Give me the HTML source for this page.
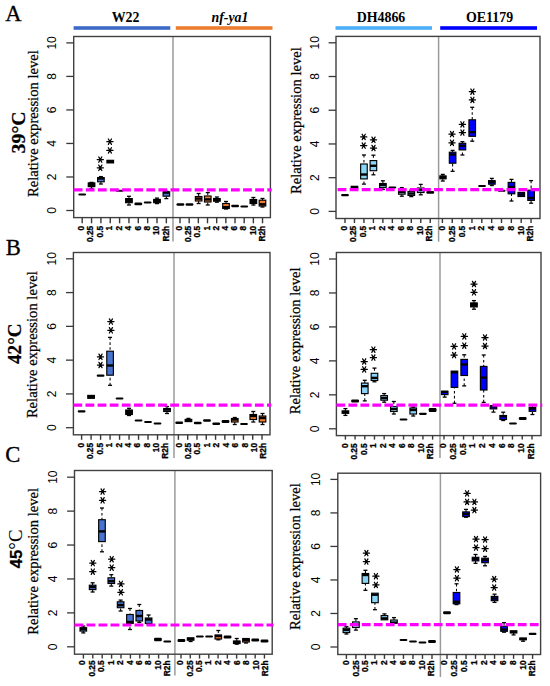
<!DOCTYPE html>
<html><head><meta charset="utf-8"><title>Figure</title><style>
html,body{margin:0;padding:0;background:#fff;}
body{width:550px;height:686px;overflow:hidden;}
svg{display:block;}
text{font-family:"Liberation Sans",sans-serif;fill:#000;}
.pl{font-family:"Liberation Serif",serif;font-size:22.6px;stroke:#000;stroke-width:0.3px;}
.hd{font-family:"Liberation Serif",serif;font-size:13.9px;font-weight:bold;}
.hi{font-style:italic;}
.tl{font-family:"Liberation Serif",serif;font-size:19.8px;font-weight:bold;stroke:#000;stroke-width:0.25px;}
.t45{font-family:"Liberation Sans",sans-serif;font-size:16.8px;font-weight:bold;}
.tdc{font-family:"Liberation Serif",serif;font-size:18.9px;font-weight:normal;stroke-width:0.1px;}
.yl{font-family:"Liberation Serif",serif;font-size:14.62px;stroke:#000;stroke-width:0.25px;}
.yt{font-family:"Liberation Sans",sans-serif;font-size:12px;}
.xt{font-family:"Liberation Sans",sans-serif;font-size:9.2px;font-weight:bold;stroke:#000;stroke-width:0.32px;}
</style></head><body>
<svg width="550" height="686" viewBox="0 0 550 686">
<rect width="550" height="686" fill="#fff"/>
<text x="5.2" y="21" class="pl">A</text>
<text x="5.8" y="254.8" class="pl">B</text>
<text x="5.2" y="462.2" class="pl">C</text>
<text x="125.6" y="22.3" class="hd" text-anchor="middle">W22</text>
<text x="230" y="22.3" class="hd hi" text-anchor="middle">nf-ya1</text>
<text x="381" y="22.3" class="hd" text-anchor="middle">DH4866</text>
<text x="489.6" y="22.3" class="hd" text-anchor="middle">OE1179</text>
<rect x="73.6" y="26.2" width="96.7" height="3.6" fill="#3D6AC6"/>
<rect x="175.8" y="26.2" width="96.7" height="3.6" fill="#ED7D31"/>
<rect x="335.5" y="26.2" width="96.5" height="3.6" fill="#4EAEF8"/>
<rect x="440.2" y="26.2" width="96.8" height="3.6" fill="#0000FF"/>
<text transform="translate(25.1 132.4) rotate(-90)" text-anchor="middle" class="tl">39°C</text>
<text transform="translate(20.8 343.7) rotate(-90)" text-anchor="middle" class="tl" style="font-size:19.1px">42°C</text>
<text transform="translate(22.2 548.9) rotate(-90)" text-anchor="middle" class="tl"><tspan class="t45">45</tspan><tspan class="tdc">°C</tspan></text>
<rect x="78.3" y="193.4" width="7.8" height="2.2" rx="1.2" fill="#000"/><line x1="91.55" y1="182.4" x2="91.55" y2="183" stroke="#000" stroke-width="1.05" stroke-dasharray="2.6 2.3"/><line x1="89.55" y1="182.4" x2="93.55" y2="182.4" stroke="#000" stroke-width="1.3"/><line x1="91.55" y1="188.4" x2="91.55" y2="186.6" stroke="#000" stroke-width="1.05" stroke-dasharray="2.6 2.3"/><line x1="89.55" y1="188.4" x2="93.55" y2="188.4" stroke="#000" stroke-width="1.3"/><rect x="88.25" y="183" width="6.6" height="3.6" fill="#000" stroke="#000" stroke-width="1.15"/><line x1="88.25" y1="183.8" x2="94.85" y2="183.8" stroke="#000" stroke-width="2.4"/><line x1="100.9" y1="176.6" x2="100.9" y2="177.6" stroke="#000" stroke-width="1.05" stroke-dasharray="2.6 2.3"/><line x1="98.9" y1="176.6" x2="102.9" y2="176.6" stroke="#000" stroke-width="1.3"/><line x1="100.9" y1="184" x2="100.9" y2="181.8" stroke="#000" stroke-width="1.05" stroke-dasharray="2.6 2.3"/><line x1="98.9" y1="184" x2="102.9" y2="184" stroke="#000" stroke-width="1.3"/><rect x="97.6" y="177.6" width="6.6" height="4.2" fill="#4873D0" stroke="#000" stroke-width="1.15"/><line x1="97.6" y1="178.5" x2="104.2" y2="178.5" stroke="#000" stroke-width="2.4"/><rect x="106.95" y="160.3" width="6.6" height="2.6" fill="#000" stroke="#000" stroke-width="1.15"/><line x1="106.95" y1="161.6" x2="113.55" y2="161.6" stroke="#000" stroke-width="2.4"/><rect x="115.7" y="189.7" width="7.8" height="2" rx="1.2" fill="#000"/><line x1="128.95" y1="196.3" x2="128.95" y2="198.6" stroke="#000" stroke-width="1.05" stroke-dasharray="2.6 2.3"/><line x1="126.95" y1="196.3" x2="130.95" y2="196.3" stroke="#000" stroke-width="1.3"/><line x1="128.95" y1="205" x2="128.95" y2="202.7" stroke="#000" stroke-width="1.05" stroke-dasharray="2.6 2.3"/><line x1="126.95" y1="205" x2="130.95" y2="205" stroke="#000" stroke-width="1.3"/><rect x="125.65" y="198.6" width="6.6" height="4.1" fill="#000" stroke="#000" stroke-width="1.15"/><line x1="125.65" y1="200" x2="132.25" y2="200" stroke="#000" stroke-width="2.4"/><rect x="134.4" y="202.4" width="7.8" height="2.8" rx="1.2" fill="#000"/><rect x="143.75" y="201.4" width="7.8" height="2" rx="1.2" fill="#000"/><line x1="157" y1="198.1" x2="157" y2="199.4" stroke="#000" stroke-width="1.05" stroke-dasharray="2.6 2.3"/><line x1="155" y1="198.1" x2="159" y2="198.1" stroke="#000" stroke-width="1.3"/><line x1="157" y1="203.6" x2="157" y2="202.7" stroke="#000" stroke-width="1.05" stroke-dasharray="2.6 2.3"/><line x1="155" y1="203.6" x2="159" y2="203.6" stroke="#000" stroke-width="1.3"/><rect x="153.7" y="199.4" width="6.6" height="3.3" fill="#000" stroke="#000" stroke-width="1.15"/><line x1="153.7" y1="200.6" x2="160.3" y2="200.6" stroke="#000" stroke-width="2.4"/><line x1="166.35" y1="191.2" x2="166.35" y2="191.9" stroke="#000" stroke-width="1.05" stroke-dasharray="2.6 2.3"/><line x1="164.35" y1="191.2" x2="168.35" y2="191.2" stroke="#000" stroke-width="1.3"/><line x1="166.35" y1="198.6" x2="166.35" y2="196.2" stroke="#000" stroke-width="1.05" stroke-dasharray="2.6 2.3"/><line x1="164.35" y1="198.6" x2="168.35" y2="198.6" stroke="#000" stroke-width="1.3"/><rect x="163.05" y="191.9" width="6.6" height="4.3" fill="#4873D0" stroke="#000" stroke-width="1.15"/><line x1="163.05" y1="192.6" x2="169.65" y2="192.6" stroke="#000" stroke-width="2.4"/><rect x="176.5" y="203.25" width="7.8" height="2.5" rx="1.2" fill="#000"/><rect x="185.62" y="203.25" width="7.8" height="2.5" rx="1.2" fill="#000"/><line x1="198.64" y1="193.5" x2="198.64" y2="196.5" stroke="#000" stroke-width="1.05" stroke-dasharray="2.6 2.3"/><line x1="196.64" y1="193.5" x2="200.64" y2="193.5" stroke="#000" stroke-width="1.3"/><line x1="198.64" y1="203.5" x2="198.64" y2="201" stroke="#000" stroke-width="1.05" stroke-dasharray="2.6 2.3"/><line x1="196.64" y1="203.5" x2="200.64" y2="203.5" stroke="#000" stroke-width="1.3"/><rect x="195.34" y="196.5" width="6.6" height="4.5" fill="#ED7D31" stroke="#000" stroke-width="1.15"/><line x1="195.34" y1="198.6" x2="201.94" y2="198.6" stroke="#000" stroke-width="2.4"/><line x1="207.76" y1="192.6" x2="207.76" y2="196" stroke="#000" stroke-width="1.05" stroke-dasharray="2.6 2.3"/><line x1="205.76" y1="192.6" x2="209.76" y2="192.6" stroke="#000" stroke-width="1.3"/><line x1="207.76" y1="205" x2="207.76" y2="202" stroke="#000" stroke-width="1.05" stroke-dasharray="2.6 2.3"/><line x1="205.76" y1="205" x2="209.76" y2="205" stroke="#000" stroke-width="1.3"/><rect x="204.46" y="196" width="6.6" height="6" fill="#ED7D31" stroke="#000" stroke-width="1.15"/><line x1="204.46" y1="199.4" x2="211.06" y2="199.4" stroke="#000" stroke-width="2.4"/><line x1="216.88" y1="197" x2="216.88" y2="198.5" stroke="#000" stroke-width="1.05" stroke-dasharray="2.6 2.3"/><line x1="214.88" y1="197" x2="218.88" y2="197" stroke="#000" stroke-width="1.3"/><line x1="216.88" y1="202.2" x2="216.88" y2="201.2" stroke="#000" stroke-width="1.05" stroke-dasharray="2.6 2.3"/><line x1="214.88" y1="202.2" x2="218.88" y2="202.2" stroke="#000" stroke-width="1.3"/><rect x="213.58" y="198.5" width="6.6" height="2.7" fill="#000" stroke="#000" stroke-width="1.15"/><line x1="213.58" y1="199.8" x2="220.18" y2="199.8" stroke="#000" stroke-width="2.4"/><line x1="226" y1="201.5" x2="226" y2="203.5" stroke="#000" stroke-width="1.05" stroke-dasharray="2.6 2.3"/><line x1="224" y1="201.5" x2="228" y2="201.5" stroke="#000" stroke-width="1.3"/><line x1="226" y1="209" x2="226" y2="208.5" stroke="#000" stroke-width="1.05" stroke-dasharray="2.6 2.3"/><line x1="224" y1="209" x2="228" y2="209" stroke="#000" stroke-width="1.3"/><rect x="222.7" y="203.5" width="6.6" height="5" fill="#ED7D31" stroke="#000" stroke-width="1.15"/><line x1="222.7" y1="207.2" x2="229.3" y2="207.2" stroke="#000" stroke-width="2.4"/><rect x="231.22" y="204.75" width="7.8" height="2.5" rx="1.2" fill="#000"/><rect x="240.34" y="205.4" width="7.8" height="2.2" rx="1.2" fill="#000"/><line x1="253.36" y1="197.5" x2="253.36" y2="199.5" stroke="#000" stroke-width="1.05" stroke-dasharray="2.6 2.3"/><line x1="251.36" y1="197.5" x2="255.36" y2="197.5" stroke="#000" stroke-width="1.3"/><line x1="253.36" y1="205" x2="253.36" y2="203.5" stroke="#000" stroke-width="1.05" stroke-dasharray="2.6 2.3"/><line x1="251.36" y1="205" x2="255.36" y2="205" stroke="#000" stroke-width="1.3"/><rect x="250.06" y="199.5" width="6.6" height="4" fill="#000" stroke="#000" stroke-width="1.15"/><line x1="250.06" y1="201.4" x2="256.66" y2="201.4" stroke="#000" stroke-width="2.4"/><line x1="262.48" y1="198.5" x2="262.48" y2="200.2" stroke="#000" stroke-width="1.05" stroke-dasharray="2.6 2.3"/><line x1="260.48" y1="198.5" x2="264.48" y2="198.5" stroke="#000" stroke-width="1.3"/><line x1="262.48" y1="207" x2="262.48" y2="206" stroke="#000" stroke-width="1.05" stroke-dasharray="2.6 2.3"/><line x1="260.48" y1="207" x2="264.48" y2="207" stroke="#000" stroke-width="1.3"/><rect x="259.18" y="200.2" width="6.6" height="5.8" fill="#ED7D31" stroke="#000" stroke-width="1.15"/><line x1="259.18" y1="204.3" x2="265.78" y2="204.3" stroke="#000" stroke-width="2.4"/><path d="M97.2 159.6L103.4 159.6M98.75 156.92L101.85 162.28M101.85 156.92L98.75 162.28" stroke="#000" stroke-width="1.25" stroke-linecap="round"/><path d="M97.2 167.8L103.4 167.8M98.75 165.12L101.85 170.48M101.85 165.12L98.75 170.48" stroke="#000" stroke-width="1.25" stroke-linecap="round"/><path d="M106.8 141.7L113 141.7M108.35 139.02L111.45 144.38M111.45 139.02L108.35 144.38" stroke="#000" stroke-width="1.25" stroke-linecap="round"/><path d="M106.8 150.4L113 150.4M108.35 147.72L111.45 153.08M111.45 147.72L108.35 153.08" stroke="#000" stroke-width="1.25" stroke-linecap="round"/><line x1="173" y1="36.5" x2="173" y2="241.6" stroke="#9a9a9a" stroke-width="1.5"/><rect x="73.7" y="36.5" width="196.7" height="181.1" fill="none" stroke="#404040" stroke-width="1.4"/><line x1="73.7" y1="189.8" x2="271.7" y2="189.8" stroke="#FF00FF" stroke-width="3.2" stroke-dasharray="8.8 3.3"/><line x1="66.3" y1="210.5" x2="73.7" y2="210.5" stroke="#383838" stroke-width="1.3"/><text transform="translate(56.3 210.5) rotate(-90)" text-anchor="middle" class="yt">0</text><line x1="66.3" y1="176.98" x2="73.7" y2="176.98" stroke="#383838" stroke-width="1.3"/><text transform="translate(56.3 176.98) rotate(-90)" text-anchor="middle" class="yt">2</text><line x1="66.3" y1="143.46" x2="73.7" y2="143.46" stroke="#383838" stroke-width="1.3"/><text transform="translate(56.3 143.46) rotate(-90)" text-anchor="middle" class="yt">4</text><line x1="66.3" y1="109.94" x2="73.7" y2="109.94" stroke="#383838" stroke-width="1.3"/><text transform="translate(56.3 109.94) rotate(-90)" text-anchor="middle" class="yt">6</text><line x1="66.3" y1="76.42" x2="73.7" y2="76.42" stroke="#383838" stroke-width="1.3"/><text transform="translate(56.3 76.42) rotate(-90)" text-anchor="middle" class="yt">8</text><line x1="66.3" y1="42.9" x2="73.7" y2="42.9" stroke="#383838" stroke-width="1.3"/><text transform="translate(56.3 42.9) rotate(-90)" text-anchor="middle" class="yt">10</text><line x1="82.2" y1="217.6" x2="82.2" y2="223.3" stroke="#383838" stroke-width="1.4"/><text transform="translate(83.95 225.9) rotate(-90) scale(0.9 1)" text-anchor="end" class="xt">0</text><line x1="91.55" y1="217.6" x2="91.55" y2="223.3" stroke="#383838" stroke-width="1.4"/><text transform="translate(93.38 225.9) rotate(-90) scale(0.9 1)" text-anchor="end" class="xt">0.25</text><line x1="100.9" y1="217.6" x2="100.9" y2="223.3" stroke="#383838" stroke-width="1.4"/><text transform="translate(102.81 225.9) rotate(-90) scale(0.9 1)" text-anchor="end" class="xt">0.5</text><line x1="110.25" y1="217.6" x2="110.25" y2="223.3" stroke="#383838" stroke-width="1.4"/><text transform="translate(112.24 225.9) rotate(-90) scale(0.9 1)" text-anchor="end" class="xt">1</text><line x1="119.6" y1="217.6" x2="119.6" y2="223.3" stroke="#383838" stroke-width="1.4"/><text transform="translate(121.67 225.9) rotate(-90) scale(0.9 1)" text-anchor="end" class="xt">2</text><line x1="128.95" y1="217.6" x2="128.95" y2="223.3" stroke="#383838" stroke-width="1.4"/><text transform="translate(131.1 225.9) rotate(-90) scale(0.9 1)" text-anchor="end" class="xt">4</text><line x1="138.3" y1="217.6" x2="138.3" y2="223.3" stroke="#383838" stroke-width="1.4"/><text transform="translate(140.53 225.9) rotate(-90) scale(0.9 1)" text-anchor="end" class="xt">6</text><line x1="147.65" y1="217.6" x2="147.65" y2="223.3" stroke="#383838" stroke-width="1.4"/><text transform="translate(149.96 225.9) rotate(-90) scale(0.9 1)" text-anchor="end" class="xt">8</text><line x1="157" y1="217.6" x2="157" y2="223.3" stroke="#383838" stroke-width="1.4"/><text transform="translate(159.39 225.9) rotate(-90) scale(0.9 1)" text-anchor="end" class="xt">10</text><line x1="166.35" y1="217.6" x2="166.35" y2="223.3" stroke="#383838" stroke-width="1.4"/><text transform="translate(168.82 225.9) rotate(-90) scale(0.9 1)" text-anchor="end" class="xt">R2h</text><line x1="180" y1="217.6" x2="180" y2="223.3" stroke="#383838" stroke-width="1.4"/><text transform="translate(181.95 225.9) rotate(-90) scale(0.9 1)" text-anchor="end" class="xt">0</text><line x1="189.17" y1="217.6" x2="189.17" y2="223.3" stroke="#383838" stroke-width="1.4"/><text transform="translate(191.15 225.9) rotate(-90) scale(0.9 1)" text-anchor="end" class="xt">0.25</text><line x1="198.34" y1="217.6" x2="198.34" y2="223.3" stroke="#383838" stroke-width="1.4"/><text transform="translate(200.35 225.9) rotate(-90) scale(0.9 1)" text-anchor="end" class="xt">0.5</text><line x1="207.51" y1="217.6" x2="207.51" y2="223.3" stroke="#383838" stroke-width="1.4"/><text transform="translate(209.55 225.9) rotate(-90) scale(0.9 1)" text-anchor="end" class="xt">1</text><line x1="216.68" y1="217.6" x2="216.68" y2="223.3" stroke="#383838" stroke-width="1.4"/><text transform="translate(218.75 225.9) rotate(-90) scale(0.9 1)" text-anchor="end" class="xt">2</text><line x1="225.85" y1="217.6" x2="225.85" y2="223.3" stroke="#383838" stroke-width="1.4"/><text transform="translate(227.95 225.9) rotate(-90) scale(0.9 1)" text-anchor="end" class="xt">4</text><line x1="235.02" y1="217.6" x2="235.02" y2="223.3" stroke="#383838" stroke-width="1.4"/><text transform="translate(237.15 225.9) rotate(-90) scale(0.9 1)" text-anchor="end" class="xt">6</text><line x1="244.19" y1="217.6" x2="244.19" y2="223.3" stroke="#383838" stroke-width="1.4"/><text transform="translate(246.35 225.9) rotate(-90) scale(0.9 1)" text-anchor="end" class="xt">8</text><line x1="253.36" y1="217.6" x2="253.36" y2="223.3" stroke="#383838" stroke-width="1.4"/><text transform="translate(255.55 225.9) rotate(-90) scale(0.9 1)" text-anchor="end" class="xt">10</text><line x1="262.53" y1="217.6" x2="262.53" y2="223.3" stroke="#383838" stroke-width="1.4"/><text transform="translate(264.75 225.9) rotate(-90) scale(0.9 1)" text-anchor="end" class="xt">R2h</text><text transform="translate(38 123.6) rotate(-90)" text-anchor="middle" class="yl">Relative expression level</text>
<rect x="341.1" y="194.1" width="7.8" height="2.2" rx="1.2" fill="#000"/><rect x="351.17" y="186.3" width="6.6" height="2.3" fill="#000" stroke="#000" stroke-width="1.15"/><line x1="351.17" y1="187.2" x2="357.77" y2="187.2" stroke="#000" stroke-width="2.4"/><line x1="363.94" y1="155" x2="363.94" y2="164" stroke="#000" stroke-width="1.05" stroke-dasharray="2.6 2.3"/><line x1="361.94" y1="155" x2="365.94" y2="155" stroke="#000" stroke-width="1.3"/><line x1="363.94" y1="184.1" x2="363.94" y2="178.9" stroke="#000" stroke-width="1.05" stroke-dasharray="2.6 2.3"/><line x1="361.94" y1="184.1" x2="365.94" y2="184.1" stroke="#000" stroke-width="1.3"/><rect x="360.64" y="164" width="6.6" height="14.9" fill="#8AD5F8" stroke="#000" stroke-width="1.15"/><line x1="360.64" y1="174.5" x2="367.24" y2="174.5" stroke="#000" stroke-width="2.4"/><line x1="373.41" y1="155.2" x2="373.41" y2="160.6" stroke="#000" stroke-width="1.05" stroke-dasharray="2.6 2.3"/><line x1="371.41" y1="155.2" x2="375.41" y2="155.2" stroke="#000" stroke-width="1.3"/><line x1="373.41" y1="174.8" x2="373.41" y2="170.7" stroke="#000" stroke-width="1.05" stroke-dasharray="2.6 2.3"/><line x1="371.41" y1="174.8" x2="375.41" y2="174.8" stroke="#000" stroke-width="1.3"/><rect x="370.11" y="160.6" width="6.6" height="10.1" fill="#8AD5F8" stroke="#000" stroke-width="1.15"/><line x1="370.11" y1="165.8" x2="376.71" y2="165.8" stroke="#000" stroke-width="2.4"/><line x1="382.88" y1="180.8" x2="382.88" y2="183.5" stroke="#000" stroke-width="1.05" stroke-dasharray="2.6 2.3"/><line x1="380.88" y1="180.8" x2="384.88" y2="180.8" stroke="#000" stroke-width="1.3"/><line x1="382.88" y1="189.5" x2="382.88" y2="187.6" stroke="#000" stroke-width="1.05" stroke-dasharray="2.6 2.3"/><line x1="380.88" y1="189.5" x2="384.88" y2="189.5" stroke="#000" stroke-width="1.3"/><rect x="379.58" y="183.5" width="6.6" height="4.1" fill="#8AD5F8" stroke="#000" stroke-width="1.15"/><line x1="379.58" y1="185" x2="386.18" y2="185" stroke="#000" stroke-width="2.4"/><rect x="388.45" y="186.5" width="7.8" height="2" rx="1.2" fill="#000"/><line x1="401.82" y1="187.6" x2="401.82" y2="190.3" stroke="#000" stroke-width="1.05" stroke-dasharray="2.6 2.3"/><line x1="399.82" y1="187.6" x2="403.82" y2="187.6" stroke="#000" stroke-width="1.3"/><line x1="401.82" y1="196.2" x2="401.82" y2="194.2" stroke="#000" stroke-width="1.05" stroke-dasharray="2.6 2.3"/><line x1="399.82" y1="196.2" x2="403.82" y2="196.2" stroke="#000" stroke-width="1.3"/><rect x="398.52" y="190.3" width="6.6" height="3.9" fill="#8AD5F8" stroke="#000" stroke-width="1.15"/><line x1="398.52" y1="192" x2="405.12" y2="192" stroke="#000" stroke-width="2.4"/><line x1="411.29" y1="190" x2="411.29" y2="191.4" stroke="#000" stroke-width="1.05" stroke-dasharray="2.6 2.3"/><line x1="409.29" y1="190" x2="413.29" y2="190" stroke="#000" stroke-width="1.3"/><line x1="411.29" y1="196.6" x2="411.29" y2="195.4" stroke="#000" stroke-width="1.05" stroke-dasharray="2.6 2.3"/><line x1="409.29" y1="196.6" x2="413.29" y2="196.6" stroke="#000" stroke-width="1.3"/><rect x="407.99" y="191.4" width="6.6" height="4" fill="#8AD5F8" stroke="#000" stroke-width="1.15"/><line x1="407.99" y1="193.5" x2="414.59" y2="193.5" stroke="#000" stroke-width="2.4"/><line x1="420.76" y1="184.4" x2="420.76" y2="188" stroke="#000" stroke-width="1.05" stroke-dasharray="2.6 2.3"/><line x1="418.76" y1="184.4" x2="422.76" y2="184.4" stroke="#000" stroke-width="1.3"/><line x1="420.76" y1="194.8" x2="420.76" y2="192.5" stroke="#000" stroke-width="1.05" stroke-dasharray="2.6 2.3"/><line x1="418.76" y1="194.8" x2="422.76" y2="194.8" stroke="#000" stroke-width="1.3"/><rect x="417.46" y="188" width="6.6" height="4.5" fill="#8AD5F8" stroke="#000" stroke-width="1.15"/><line x1="417.46" y1="190" x2="424.06" y2="190" stroke="#000" stroke-width="2.4"/><rect x="426.33" y="190.9" width="7.8" height="2.8" rx="1.2" fill="#000"/><line x1="442.8" y1="174.4" x2="442.8" y2="175.9" stroke="#000" stroke-width="1.05" stroke-dasharray="2.6 2.3"/><line x1="440.8" y1="174.4" x2="444.8" y2="174.4" stroke="#000" stroke-width="1.3"/><line x1="442.8" y1="181" x2="442.8" y2="178.8" stroke="#000" stroke-width="1.05" stroke-dasharray="2.6 2.3"/><line x1="440.8" y1="181" x2="444.8" y2="181" stroke="#000" stroke-width="1.3"/><rect x="439.5" y="175.9" width="6.6" height="2.9" fill="#000" stroke="#000" stroke-width="1.15"/><line x1="439.5" y1="177.1" x2="446.1" y2="177.1" stroke="#000" stroke-width="2.4"/><line x1="452.61" y1="150.4" x2="452.61" y2="152.2" stroke="#000" stroke-width="1.05" stroke-dasharray="2.6 2.3"/><line x1="450.61" y1="150.4" x2="454.61" y2="150.4" stroke="#000" stroke-width="1.3"/><line x1="452.61" y1="171.3" x2="452.61" y2="163.2" stroke="#000" stroke-width="1.05" stroke-dasharray="2.6 2.3"/><line x1="450.61" y1="171.3" x2="454.61" y2="171.3" stroke="#000" stroke-width="1.3"/><rect x="449.31" y="152.2" width="6.6" height="11" fill="#0000FF" stroke="#000" stroke-width="1.15"/><line x1="449.31" y1="154.5" x2="455.91" y2="154.5" stroke="#000" stroke-width="2.4"/><line x1="462.42" y1="141.7" x2="462.42" y2="143.3" stroke="#000" stroke-width="1.05" stroke-dasharray="2.6 2.3"/><line x1="460.42" y1="141.7" x2="464.42" y2="141.7" stroke="#000" stroke-width="1.3"/><line x1="462.42" y1="155" x2="462.42" y2="149.9" stroke="#000" stroke-width="1.05" stroke-dasharray="2.6 2.3"/><line x1="460.42" y1="155" x2="464.42" y2="155" stroke="#000" stroke-width="1.3"/><rect x="459.12" y="143.3" width="6.6" height="6.6" fill="#0000FF" stroke="#000" stroke-width="1.15"/><line x1="459.12" y1="145.8" x2="465.72" y2="145.8" stroke="#000" stroke-width="2.4"/><line x1="472.23" y1="107.3" x2="472.23" y2="119.8" stroke="#000" stroke-width="1.05" stroke-dasharray="2.6 2.3"/><line x1="470.23" y1="107.3" x2="474.23" y2="107.3" stroke="#000" stroke-width="1.3"/><line x1="472.23" y1="141.2" x2="472.23" y2="136.3" stroke="#000" stroke-width="1.05" stroke-dasharray="2.6 2.3"/><line x1="470.23" y1="141.2" x2="474.23" y2="141.2" stroke="#000" stroke-width="1.3"/><rect x="468.93" y="119.8" width="6.6" height="16.5" fill="#0000FF" stroke="#000" stroke-width="1.15"/><line x1="468.93" y1="132.2" x2="475.53" y2="132.2" stroke="#000" stroke-width="2.4"/><rect x="478.14" y="185" width="7.8" height="2" rx="1.2" fill="#000"/><line x1="491.85" y1="178.4" x2="491.85" y2="180.6" stroke="#000" stroke-width="1.05" stroke-dasharray="2.6 2.3"/><line x1="489.85" y1="178.4" x2="493.85" y2="178.4" stroke="#000" stroke-width="1.3"/><line x1="491.85" y1="185.5" x2="491.85" y2="184.2" stroke="#000" stroke-width="1.05" stroke-dasharray="2.6 2.3"/><line x1="489.85" y1="185.5" x2="493.85" y2="185.5" stroke="#000" stroke-width="1.3"/><rect x="488.55" y="180.6" width="6.6" height="3.6" fill="#0000FF" stroke="#000" stroke-width="1.15"/><line x1="488.55" y1="182" x2="495.15" y2="182" stroke="#000" stroke-width="2.4"/><rect x="497.76" y="189.8" width="7.8" height="2" rx="1.2" fill="#000"/><line x1="511.47" y1="179.4" x2="511.47" y2="182.4" stroke="#000" stroke-width="1.05" stroke-dasharray="2.6 2.3"/><line x1="509.47" y1="179.4" x2="513.47" y2="179.4" stroke="#000" stroke-width="1.3"/><line x1="511.47" y1="201" x2="511.47" y2="193.8" stroke="#000" stroke-width="1.05" stroke-dasharray="2.6 2.3"/><line x1="509.47" y1="201" x2="513.47" y2="201" stroke="#000" stroke-width="1.3"/><rect x="508.17" y="182.4" width="6.6" height="11.4" fill="#0000FF" stroke="#000" stroke-width="1.15"/><line x1="508.17" y1="187" x2="514.77" y2="187" stroke="#000" stroke-width="2.4"/><rect x="517.98" y="192.4" width="6.6" height="4.1" fill="#0000FF" stroke="#000" stroke-width="1.15"/><line x1="517.98" y1="194.5" x2="524.58" y2="194.5" stroke="#000" stroke-width="2.4"/><line x1="531.09" y1="180.6" x2="531.09" y2="190.2" stroke="#000" stroke-width="1.05" stroke-dasharray="2.6 2.3"/><line x1="529.09" y1="180.6" x2="533.09" y2="180.6" stroke="#000" stroke-width="1.3"/><line x1="531.09" y1="203.2" x2="531.09" y2="200.4" stroke="#000" stroke-width="1.05" stroke-dasharray="2.6 2.3"/><line x1="529.09" y1="203.2" x2="533.09" y2="203.2" stroke="#000" stroke-width="1.3"/><rect x="527.79" y="190.2" width="6.6" height="10.2" fill="#0000FF" stroke="#000" stroke-width="1.15"/><line x1="527.79" y1="198" x2="534.39" y2="198" stroke="#000" stroke-width="2.4"/><path d="M360.6 136.9L366.8 136.9M362.15 134.22L365.25 139.58M365.25 134.22L362.15 139.58" stroke="#000" stroke-width="1.25" stroke-linecap="round"/><path d="M360.6 145.6L366.8 145.6M362.15 142.92L365.25 148.28M365.25 142.92L362.15 148.28" stroke="#000" stroke-width="1.25" stroke-linecap="round"/><path d="M370.4 139.8L376.6 139.8M371.95 137.12L375.05 142.48M375.05 137.12L371.95 142.48" stroke="#000" stroke-width="1.25" stroke-linecap="round"/><path d="M370.4 148L376.6 148M371.95 145.32L375.05 150.68M375.05 145.32L371.95 150.68" stroke="#000" stroke-width="1.25" stroke-linecap="round"/><path d="M448.9 134.1L455.1 134.1M450.45 131.42L453.55 136.78M453.55 131.42L450.45 136.78" stroke="#000" stroke-width="1.25" stroke-linecap="round"/><path d="M448.9 142.8L455.1 142.8M450.45 140.12L453.55 145.48M453.55 140.12L450.45 145.48" stroke="#000" stroke-width="1.25" stroke-linecap="round"/><path d="M459.3 124.4L465.5 124.4M460.85 121.72L463.95 127.08M463.95 121.72L460.85 127.08" stroke="#000" stroke-width="1.25" stroke-linecap="round"/><path d="M459.3 132.6L465.5 132.6M460.85 129.92L463.95 135.28M463.95 129.92L460.85 135.28" stroke="#000" stroke-width="1.25" stroke-linecap="round"/><path d="M469.3 91.7L475.5 91.7M470.85 89.02L473.95 94.38M473.95 89.02L470.85 94.38" stroke="#000" stroke-width="1.25" stroke-linecap="round"/><path d="M469.3 99.9L475.5 99.9M470.85 97.22L473.95 102.58M473.95 97.22L470.85 102.58" stroke="#000" stroke-width="1.25" stroke-linecap="round"/><line x1="438.6" y1="36.4" x2="438.6" y2="241.7" stroke="#9a9a9a" stroke-width="1.5"/><rect x="336" y="36.4" width="204" height="182.1" fill="none" stroke="#404040" stroke-width="1.4"/><line x1="337.6" y1="189.6" x2="541.3" y2="189.6" stroke="#FF00FF" stroke-width="3.2" stroke-dasharray="8.8 3.26"/><line x1="328.6" y1="211.4" x2="336" y2="211.4" stroke="#383838" stroke-width="1.3"/><text transform="translate(318.6 211.4) rotate(-90)" text-anchor="middle" class="yt">0</text><line x1="328.6" y1="177.68" x2="336" y2="177.68" stroke="#383838" stroke-width="1.3"/><text transform="translate(318.6 177.68) rotate(-90)" text-anchor="middle" class="yt">2</text><line x1="328.6" y1="143.96" x2="336" y2="143.96" stroke="#383838" stroke-width="1.3"/><text transform="translate(318.6 143.96) rotate(-90)" text-anchor="middle" class="yt">4</text><line x1="328.6" y1="110.24" x2="336" y2="110.24" stroke="#383838" stroke-width="1.3"/><text transform="translate(318.6 110.24) rotate(-90)" text-anchor="middle" class="yt">6</text><line x1="328.6" y1="76.52" x2="336" y2="76.52" stroke="#383838" stroke-width="1.3"/><text transform="translate(318.6 76.52) rotate(-90)" text-anchor="middle" class="yt">8</text><line x1="328.6" y1="42.8" x2="336" y2="42.8" stroke="#383838" stroke-width="1.3"/><text transform="translate(318.6 42.8) rotate(-90)" text-anchor="middle" class="yt">10</text><line x1="345" y1="218.5" x2="345" y2="223" stroke="#383838" stroke-width="1.4"/><text transform="translate(346.95 225.8) rotate(-90) scale(0.9 1)" text-anchor="end" class="xt">0</text><line x1="354.47" y1="218.5" x2="354.47" y2="223" stroke="#383838" stroke-width="1.4"/><text transform="translate(356.41 225.8) rotate(-90) scale(0.9 1)" text-anchor="end" class="xt">0.25</text><line x1="363.94" y1="218.5" x2="363.94" y2="223" stroke="#383838" stroke-width="1.4"/><text transform="translate(365.87 225.8) rotate(-90) scale(0.9 1)" text-anchor="end" class="xt">0.5</text><line x1="373.41" y1="218.5" x2="373.41" y2="223" stroke="#383838" stroke-width="1.4"/><text transform="translate(375.33 225.8) rotate(-90) scale(0.9 1)" text-anchor="end" class="xt">1</text><line x1="382.88" y1="218.5" x2="382.88" y2="223" stroke="#383838" stroke-width="1.4"/><text transform="translate(384.79 225.8) rotate(-90) scale(0.9 1)" text-anchor="end" class="xt">2</text><line x1="392.35" y1="218.5" x2="392.35" y2="223" stroke="#383838" stroke-width="1.4"/><text transform="translate(394.25 225.8) rotate(-90) scale(0.9 1)" text-anchor="end" class="xt">4</text><line x1="401.82" y1="218.5" x2="401.82" y2="223" stroke="#383838" stroke-width="1.4"/><text transform="translate(403.71 225.8) rotate(-90) scale(0.9 1)" text-anchor="end" class="xt">6</text><line x1="411.29" y1="218.5" x2="411.29" y2="223" stroke="#383838" stroke-width="1.4"/><text transform="translate(413.17 225.8) rotate(-90) scale(0.9 1)" text-anchor="end" class="xt">8</text><line x1="420.76" y1="218.5" x2="420.76" y2="223" stroke="#383838" stroke-width="1.4"/><text transform="translate(422.63 225.8) rotate(-90) scale(0.9 1)" text-anchor="end" class="xt">10</text><line x1="430.23" y1="218.5" x2="430.23" y2="223" stroke="#383838" stroke-width="1.4"/><text transform="translate(432.09 225.8) rotate(-90) scale(0.9 1)" text-anchor="end" class="xt">R2h</text><line x1="442.4" y1="218.5" x2="442.4" y2="223" stroke="#383838" stroke-width="1.4"/><text transform="translate(445.15 225.8) rotate(-90) scale(0.9 1)" text-anchor="end" class="xt">0</text><line x1="452.25" y1="218.5" x2="452.25" y2="223" stroke="#383838" stroke-width="1.4"/><text transform="translate(454.96 225.8) rotate(-90) scale(0.9 1)" text-anchor="end" class="xt">0.25</text><line x1="462.1" y1="218.5" x2="462.1" y2="223" stroke="#383838" stroke-width="1.4"/><text transform="translate(464.77 225.8) rotate(-90) scale(0.9 1)" text-anchor="end" class="xt">0.5</text><line x1="471.95" y1="218.5" x2="471.95" y2="223" stroke="#383838" stroke-width="1.4"/><text transform="translate(474.58 225.8) rotate(-90) scale(0.9 1)" text-anchor="end" class="xt">1</text><line x1="481.8" y1="218.5" x2="481.8" y2="223" stroke="#383838" stroke-width="1.4"/><text transform="translate(484.39 225.8) rotate(-90) scale(0.9 1)" text-anchor="end" class="xt">2</text><line x1="491.65" y1="218.5" x2="491.65" y2="223" stroke="#383838" stroke-width="1.4"/><text transform="translate(494.2 225.8) rotate(-90) scale(0.9 1)" text-anchor="end" class="xt">4</text><line x1="501.5" y1="218.5" x2="501.5" y2="223" stroke="#383838" stroke-width="1.4"/><text transform="translate(504.01 225.8) rotate(-90) scale(0.9 1)" text-anchor="end" class="xt">6</text><line x1="511.35" y1="218.5" x2="511.35" y2="223" stroke="#383838" stroke-width="1.4"/><text transform="translate(513.82 225.8) rotate(-90) scale(0.9 1)" text-anchor="end" class="xt">8</text><line x1="521.2" y1="218.5" x2="521.2" y2="223" stroke="#383838" stroke-width="1.4"/><text transform="translate(523.63 225.8) rotate(-90) scale(0.9 1)" text-anchor="end" class="xt">10</text><line x1="531.05" y1="218.5" x2="531.05" y2="223" stroke="#383838" stroke-width="1.4"/><text transform="translate(533.44 225.8) rotate(-90) scale(0.9 1)" text-anchor="end" class="xt">R2h</text><text transform="translate(300.7 120.6) rotate(-90)" text-anchor="middle" class="yl">Relative expression level</text>
<rect x="77.7" y="410.3" width="7.8" height="2.2" rx="1.2" fill="#000"/><rect x="87.79" y="395.4" width="6.6" height="2.9" fill="#000" stroke="#000" stroke-width="1.15"/><line x1="87.79" y1="396.3" x2="94.39" y2="396.3" stroke="#000" stroke-width="2.4"/><rect x="96.68" y="374.6" width="7.8" height="2.2" rx="1.2" fill="#000"/><line x1="110.07" y1="337.4" x2="110.07" y2="351.2" stroke="#000" stroke-width="1.05" stroke-dasharray="2.6 2.3"/><line x1="108.07" y1="337.4" x2="112.07" y2="337.4" stroke="#000" stroke-width="1.3"/><line x1="110.07" y1="385.3" x2="110.07" y2="375.2" stroke="#000" stroke-width="1.05" stroke-dasharray="2.6 2.3"/><line x1="108.07" y1="385.3" x2="112.07" y2="385.3" stroke="#000" stroke-width="1.3"/><rect x="106.77" y="351.2" width="6.6" height="24" fill="#4873D0" stroke="#000" stroke-width="1.15"/><line x1="106.77" y1="365.5" x2="113.37" y2="365.5" stroke="#000" stroke-width="2.4"/><rect x="115.66" y="397.4" width="7.8" height="2.2" rx="1.2" fill="#000"/><line x1="129.05" y1="408.3" x2="129.05" y2="410" stroke="#000" stroke-width="1.05" stroke-dasharray="2.6 2.3"/><line x1="127.05" y1="408.3" x2="131.05" y2="408.3" stroke="#000" stroke-width="1.3"/><line x1="129.05" y1="415.5" x2="129.05" y2="414.5" stroke="#000" stroke-width="1.05" stroke-dasharray="2.6 2.3"/><line x1="127.05" y1="415.5" x2="131.05" y2="415.5" stroke="#000" stroke-width="1.3"/><rect x="125.75" y="410" width="6.6" height="4.5" fill="#000" stroke="#000" stroke-width="1.15"/><line x1="125.75" y1="411.5" x2="132.35" y2="411.5" stroke="#000" stroke-width="2.4"/><rect x="134.64" y="419.5" width="7.8" height="2" rx="1.2" fill="#000"/><rect x="144.13" y="421" width="7.8" height="2" rx="1.2" fill="#000"/><rect x="153.62" y="422.5" width="7.8" height="2" rx="1.2" fill="#000"/><line x1="167.01" y1="406.5" x2="167.01" y2="408.5" stroke="#000" stroke-width="1.05" stroke-dasharray="2.6 2.3"/><line x1="165.01" y1="406.5" x2="169.01" y2="406.5" stroke="#000" stroke-width="1.3"/><line x1="167.01" y1="413.5" x2="167.01" y2="411.5" stroke="#000" stroke-width="1.05" stroke-dasharray="2.6 2.3"/><line x1="165.01" y1="413.5" x2="169.01" y2="413.5" stroke="#000" stroke-width="1.3"/><rect x="163.71" y="408.5" width="6.6" height="3" fill="#4873D0" stroke="#000" stroke-width="1.15"/><line x1="163.71" y1="409.5" x2="170.31" y2="409.5" stroke="#000" stroke-width="2.4"/><rect x="175.3" y="421.55" width="7.8" height="2.5" rx="1.2" fill="#000"/><line x1="188.46" y1="418.4" x2="188.46" y2="419.4" stroke="#000" stroke-width="1.05" stroke-dasharray="2.6 2.3"/><line x1="186.46" y1="418.4" x2="190.46" y2="418.4" stroke="#000" stroke-width="1.3"/><rect x="185.16" y="419.4" width="6.6" height="2.2" fill="#ED7D31" stroke="#000" stroke-width="1.15"/><line x1="185.16" y1="420.4" x2="191.76" y2="420.4" stroke="#000" stroke-width="2.4"/><rect x="193.82" y="421.75" width="7.8" height="2.5" rx="1.2" fill="#000"/><rect x="203.08" y="419.25" width="7.8" height="2.5" rx="1.2" fill="#000"/><rect x="212.34" y="422.55" width="7.8" height="2.5" rx="1.2" fill="#000"/><rect x="221.6" y="420" width="7.8" height="3" rx="1.2" fill="#000"/><line x1="234.76" y1="417.5" x2="234.76" y2="418.5" stroke="#000" stroke-width="1.05" stroke-dasharray="2.6 2.3"/><line x1="232.76" y1="417.5" x2="236.76" y2="417.5" stroke="#000" stroke-width="1.3"/><line x1="234.76" y1="424.5" x2="234.76" y2="422" stroke="#000" stroke-width="1.05" stroke-dasharray="2.6 2.3"/><line x1="232.76" y1="424.5" x2="236.76" y2="424.5" stroke="#000" stroke-width="1.3"/><rect x="231.46" y="418.5" width="6.6" height="3.5" fill="#ED7D31" stroke="#000" stroke-width="1.15"/><line x1="231.46" y1="419.5" x2="238.06" y2="419.5" stroke="#000" stroke-width="2.4"/><rect x="240.12" y="422.9" width="7.8" height="2.2" rx="1.2" fill="#000"/><line x1="253.28" y1="411.5" x2="253.28" y2="414.5" stroke="#000" stroke-width="1.05" stroke-dasharray="2.6 2.3"/><line x1="251.28" y1="411.5" x2="255.28" y2="411.5" stroke="#000" stroke-width="1.3"/><line x1="253.28" y1="422" x2="253.28" y2="419.5" stroke="#000" stroke-width="1.05" stroke-dasharray="2.6 2.3"/><line x1="251.28" y1="422" x2="255.28" y2="422" stroke="#000" stroke-width="1.3"/><rect x="249.98" y="414.5" width="6.6" height="5" fill="#ED7D31" stroke="#000" stroke-width="1.15"/><line x1="249.98" y1="416" x2="256.58" y2="416" stroke="#000" stroke-width="2.4"/><line x1="262.54" y1="413.5" x2="262.54" y2="416" stroke="#000" stroke-width="1.05" stroke-dasharray="2.6 2.3"/><line x1="260.54" y1="413.5" x2="264.54" y2="413.5" stroke="#000" stroke-width="1.3"/><line x1="262.54" y1="424.5" x2="262.54" y2="422" stroke="#000" stroke-width="1.05" stroke-dasharray="2.6 2.3"/><line x1="260.54" y1="424.5" x2="264.54" y2="424.5" stroke="#000" stroke-width="1.3"/><rect x="259.24" y="416" width="6.6" height="6" fill="#ED7D31" stroke="#000" stroke-width="1.15"/><line x1="259.24" y1="418" x2="265.84" y2="418" stroke="#000" stroke-width="2.4"/><path d="M97.4 356.8L103.6 356.8M98.95 354.12L102.05 359.48M102.05 354.12L98.95 359.48" stroke="#000" stroke-width="1.25" stroke-linecap="round"/><path d="M97.4 365L103.6 365M98.95 362.32L102.05 367.68M102.05 362.32L98.95 367.68" stroke="#000" stroke-width="1.25" stroke-linecap="round"/><path d="M107.8 321.6L114 321.6M109.35 318.92L112.45 324.28M112.45 318.92L109.35 324.28" stroke="#000" stroke-width="1.25" stroke-linecap="round"/><path d="M107.8 330.3L114 330.3M109.35 327.62L112.45 332.98M112.45 327.62L109.35 332.98" stroke="#000" stroke-width="1.25" stroke-linecap="round"/><line x1="174" y1="252.5" x2="174" y2="458" stroke="#9a9a9a" stroke-width="1.5"/><rect x="73.4" y="252.5" width="196.6" height="182.3" fill="none" stroke="#404040" stroke-width="1.4"/><line x1="73.4" y1="405.2" x2="271.3" y2="405.2" stroke="#FF00FF" stroke-width="3.2" stroke-dasharray="8.8 3.3"/><line x1="66" y1="427.7" x2="73.4" y2="427.7" stroke="#383838" stroke-width="1.3"/><text transform="translate(55.6 427.7) rotate(-90)" text-anchor="middle" class="yt">0</text><line x1="66" y1="393.92" x2="73.4" y2="393.92" stroke="#383838" stroke-width="1.3"/><text transform="translate(55.6 393.92) rotate(-90)" text-anchor="middle" class="yt">2</text><line x1="66" y1="360.14" x2="73.4" y2="360.14" stroke="#383838" stroke-width="1.3"/><text transform="translate(55.6 360.14) rotate(-90)" text-anchor="middle" class="yt">4</text><line x1="66" y1="326.36" x2="73.4" y2="326.36" stroke="#383838" stroke-width="1.3"/><text transform="translate(55.6 326.36) rotate(-90)" text-anchor="middle" class="yt">6</text><line x1="66" y1="292.58" x2="73.4" y2="292.58" stroke="#383838" stroke-width="1.3"/><text transform="translate(55.6 292.58) rotate(-90)" text-anchor="middle" class="yt">8</text><line x1="66" y1="258.8" x2="73.4" y2="258.8" stroke="#383838" stroke-width="1.3"/><text transform="translate(55.6 258.8) rotate(-90)" text-anchor="middle" class="yt">10</text><line x1="81.6" y1="434.8" x2="81.6" y2="439.8" stroke="#383838" stroke-width="1.4"/><text transform="translate(84.05 443) rotate(-90) scale(0.9 1)" text-anchor="end" class="xt">0</text><line x1="91.09" y1="434.8" x2="91.09" y2="439.8" stroke="#383838" stroke-width="1.4"/><text transform="translate(93.42 443) rotate(-90) scale(0.9 1)" text-anchor="end" class="xt">0.25</text><line x1="100.58" y1="434.8" x2="100.58" y2="439.8" stroke="#383838" stroke-width="1.4"/><text transform="translate(102.8 443) rotate(-90) scale(0.9 1)" text-anchor="end" class="xt">0.5</text><line x1="110.07" y1="434.8" x2="110.07" y2="439.8" stroke="#383838" stroke-width="1.4"/><text transform="translate(112.17 443) rotate(-90) scale(0.9 1)" text-anchor="end" class="xt">1</text><line x1="119.56" y1="434.8" x2="119.56" y2="439.8" stroke="#383838" stroke-width="1.4"/><text transform="translate(121.55 443) rotate(-90) scale(0.9 1)" text-anchor="end" class="xt">2</text><line x1="129.05" y1="434.8" x2="129.05" y2="439.8" stroke="#383838" stroke-width="1.4"/><text transform="translate(130.92 443) rotate(-90) scale(0.9 1)" text-anchor="end" class="xt">4</text><line x1="138.54" y1="434.8" x2="138.54" y2="439.8" stroke="#383838" stroke-width="1.4"/><text transform="translate(140.3 443) rotate(-90) scale(0.9 1)" text-anchor="end" class="xt">6</text><line x1="148.03" y1="434.8" x2="148.03" y2="439.8" stroke="#383838" stroke-width="1.4"/><text transform="translate(149.67 443) rotate(-90) scale(0.9 1)" text-anchor="end" class="xt">8</text><line x1="157.52" y1="434.8" x2="157.52" y2="439.8" stroke="#383838" stroke-width="1.4"/><text transform="translate(159.05 443) rotate(-90) scale(0.9 1)" text-anchor="end" class="xt">10</text><line x1="167.01" y1="434.8" x2="167.01" y2="439.8" stroke="#383838" stroke-width="1.4"/><text transform="translate(168.42 443) rotate(-90) scale(0.9 1)" text-anchor="end" class="xt">R2h</text><line x1="178.4" y1="434.8" x2="178.4" y2="439.8" stroke="#383838" stroke-width="1.4"/><text transform="translate(181.5 443) rotate(-90) scale(0.9 1)" text-anchor="end" class="xt">0</text><line x1="187.69" y1="434.8" x2="187.69" y2="439.8" stroke="#383838" stroke-width="1.4"/><text transform="translate(190.94 443) rotate(-90) scale(0.9 1)" text-anchor="end" class="xt">0.25</text><line x1="196.98" y1="434.8" x2="196.98" y2="439.8" stroke="#383838" stroke-width="1.4"/><text transform="translate(200.38 443) rotate(-90) scale(0.9 1)" text-anchor="end" class="xt">0.5</text><line x1="206.27" y1="434.8" x2="206.27" y2="439.8" stroke="#383838" stroke-width="1.4"/><text transform="translate(209.82 443) rotate(-90) scale(0.9 1)" text-anchor="end" class="xt">1</text><line x1="215.56" y1="434.8" x2="215.56" y2="439.8" stroke="#383838" stroke-width="1.4"/><text transform="translate(219.26 443) rotate(-90) scale(0.9 1)" text-anchor="end" class="xt">2</text><line x1="224.85" y1="434.8" x2="224.85" y2="439.8" stroke="#383838" stroke-width="1.4"/><text transform="translate(228.7 443) rotate(-90) scale(0.9 1)" text-anchor="end" class="xt">4</text><line x1="234.14" y1="434.8" x2="234.14" y2="439.8" stroke="#383838" stroke-width="1.4"/><text transform="translate(238.14 443) rotate(-90) scale(0.9 1)" text-anchor="end" class="xt">6</text><line x1="243.43" y1="434.8" x2="243.43" y2="439.8" stroke="#383838" stroke-width="1.4"/><text transform="translate(247.58 443) rotate(-90) scale(0.9 1)" text-anchor="end" class="xt">8</text><line x1="252.72" y1="434.8" x2="252.72" y2="439.8" stroke="#383838" stroke-width="1.4"/><text transform="translate(257.02 443) rotate(-90) scale(0.9 1)" text-anchor="end" class="xt">10</text><line x1="262.01" y1="434.8" x2="262.01" y2="439.8" stroke="#383838" stroke-width="1.4"/><text transform="translate(266.46 443) rotate(-90) scale(0.9 1)" text-anchor="end" class="xt">R2h</text><text transform="translate(37.1 344.7) rotate(-90)" text-anchor="middle" class="yl">Relative expression level</text>
<line x1="345.4" y1="408.6" x2="345.4" y2="410.9" stroke="#000" stroke-width="1.05" stroke-dasharray="2.6 2.3"/><line x1="343.4" y1="408.6" x2="347.4" y2="408.6" stroke="#000" stroke-width="1.3"/><line x1="345.4" y1="415.4" x2="345.4" y2="413.3" stroke="#000" stroke-width="1.05" stroke-dasharray="2.6 2.3"/><line x1="343.4" y1="415.4" x2="347.4" y2="415.4" stroke="#000" stroke-width="1.3"/><rect x="342.1" y="410.9" width="6.6" height="2.4" fill="#000" stroke="#000" stroke-width="1.15"/><line x1="342.1" y1="412.1" x2="348.7" y2="412.1" stroke="#000" stroke-width="2.4"/><rect x="351.19" y="399.4" width="7.8" height="3" rx="1.2" fill="#000"/><line x1="364.78" y1="380.3" x2="364.78" y2="383.1" stroke="#000" stroke-width="1.05" stroke-dasharray="2.6 2.3"/><line x1="362.78" y1="380.3" x2="366.78" y2="380.3" stroke="#000" stroke-width="1.3"/><line x1="364.78" y1="400.9" x2="364.78" y2="393.6" stroke="#000" stroke-width="1.05" stroke-dasharray="2.6 2.3"/><line x1="362.78" y1="400.9" x2="366.78" y2="400.9" stroke="#000" stroke-width="1.3"/><rect x="361.48" y="383.1" width="6.6" height="10.5" fill="#8AD5F8" stroke="#000" stroke-width="1.15"/><line x1="361.48" y1="386.2" x2="368.08" y2="386.2" stroke="#000" stroke-width="2.4"/><line x1="374.47" y1="368.1" x2="374.47" y2="373.3" stroke="#000" stroke-width="1.05" stroke-dasharray="2.6 2.3"/><line x1="372.47" y1="368.1" x2="376.47" y2="368.1" stroke="#000" stroke-width="1.3"/><line x1="374.47" y1="381.8" x2="374.47" y2="380.5" stroke="#000" stroke-width="1.05" stroke-dasharray="2.6 2.3"/><line x1="372.47" y1="381.8" x2="376.47" y2="381.8" stroke="#000" stroke-width="1.3"/><rect x="371.17" y="373.3" width="6.6" height="7.2" fill="#8AD5F8" stroke="#000" stroke-width="1.15"/><line x1="371.17" y1="377.9" x2="377.77" y2="377.9" stroke="#000" stroke-width="2.4"/><line x1="384.16" y1="393.6" x2="384.16" y2="395.6" stroke="#000" stroke-width="1.05" stroke-dasharray="2.6 2.3"/><line x1="382.16" y1="393.6" x2="386.16" y2="393.6" stroke="#000" stroke-width="1.3"/><line x1="384.16" y1="402.2" x2="384.16" y2="400.2" stroke="#000" stroke-width="1.05" stroke-dasharray="2.6 2.3"/><line x1="382.16" y1="402.2" x2="386.16" y2="402.2" stroke="#000" stroke-width="1.3"/><rect x="380.86" y="395.6" width="6.6" height="4.6" fill="#8AD5F8" stroke="#000" stroke-width="1.15"/><line x1="380.86" y1="398" x2="387.46" y2="398" stroke="#000" stroke-width="2.4"/><line x1="393.85" y1="401.5" x2="393.85" y2="406.5" stroke="#000" stroke-width="1.05" stroke-dasharray="2.6 2.3"/><line x1="391.85" y1="401.5" x2="395.85" y2="401.5" stroke="#000" stroke-width="1.3"/><line x1="393.85" y1="414" x2="393.85" y2="411.5" stroke="#000" stroke-width="1.05" stroke-dasharray="2.6 2.3"/><line x1="391.85" y1="414" x2="395.85" y2="414" stroke="#000" stroke-width="1.3"/><rect x="390.55" y="406.5" width="6.6" height="5" fill="#8AD5F8" stroke="#000" stroke-width="1.15"/><line x1="390.55" y1="409" x2="397.15" y2="409" stroke="#000" stroke-width="2.4"/><rect x="399.64" y="418.4" width="7.8" height="2.2" rx="1.2" fill="#000"/><line x1="413.23" y1="407" x2="413.23" y2="408" stroke="#000" stroke-width="1.05" stroke-dasharray="2.6 2.3"/><line x1="411.23" y1="407" x2="415.23" y2="407" stroke="#000" stroke-width="1.3"/><line x1="413.23" y1="416" x2="413.23" y2="414" stroke="#000" stroke-width="1.05" stroke-dasharray="2.6 2.3"/><line x1="411.23" y1="416" x2="415.23" y2="416" stroke="#000" stroke-width="1.3"/><rect x="409.93" y="408" width="6.6" height="6" fill="#8AD5F8" stroke="#000" stroke-width="1.15"/><line x1="409.93" y1="410" x2="416.53" y2="410" stroke="#000" stroke-width="2.4"/><rect x="419.02" y="412.7" width="7.8" height="2.2" rx="1.2" fill="#000"/><rect x="428.71" y="408.1" width="7.8" height="3.8" rx="1.2" fill="#000"/><line x1="444.7" y1="397.1" x2="444.7" y2="394.6" stroke="#000" stroke-width="1.05" stroke-dasharray="2.6 2.3"/><line x1="442.7" y1="397.1" x2="446.7" y2="397.1" stroke="#000" stroke-width="1.3"/><rect x="441.4" y="391.3" width="6.6" height="3.3" fill="#0000FF" stroke="#000" stroke-width="1.15"/><line x1="441.4" y1="391.9" x2="448" y2="391.9" stroke="#000" stroke-width="2.4"/><line x1="454.45" y1="403.3" x2="454.45" y2="387.4" stroke="#000" stroke-width="1.05" stroke-dasharray="2.6 2.3"/><line x1="452.45" y1="403.3" x2="456.45" y2="403.3" stroke="#000" stroke-width="1.3"/><rect x="451.15" y="371.1" width="6.6" height="16.3" fill="#0000FF" stroke="#000" stroke-width="1.15"/><line x1="451.15" y1="372.3" x2="457.75" y2="372.3" stroke="#000" stroke-width="2.4"/><line x1="464.2" y1="354.8" x2="464.2" y2="359.4" stroke="#000" stroke-width="1.05" stroke-dasharray="2.6 2.3"/><line x1="462.2" y1="354.8" x2="466.2" y2="354.8" stroke="#000" stroke-width="1.3"/><line x1="464.2" y1="385.9" x2="464.2" y2="375.5" stroke="#000" stroke-width="1.05" stroke-dasharray="2.6 2.3"/><line x1="462.2" y1="385.9" x2="466.2" y2="385.9" stroke="#000" stroke-width="1.3"/><rect x="460.9" y="359.4" width="6.6" height="16.1" fill="#0000FF" stroke="#000" stroke-width="1.15"/><line x1="460.9" y1="364.5" x2="467.5" y2="364.5" stroke="#000" stroke-width="2.4"/><line x1="473.95" y1="300.6" x2="473.95" y2="302.9" stroke="#000" stroke-width="1.05" stroke-dasharray="2.6 2.3"/><line x1="471.95" y1="300.6" x2="475.95" y2="300.6" stroke="#000" stroke-width="1.3"/><line x1="473.95" y1="309.2" x2="473.95" y2="306.9" stroke="#000" stroke-width="1.05" stroke-dasharray="2.6 2.3"/><line x1="471.95" y1="309.2" x2="475.95" y2="309.2" stroke="#000" stroke-width="1.3"/><rect x="470.65" y="302.9" width="6.6" height="4" fill="#000" stroke="#000" stroke-width="1.15"/><line x1="470.65" y1="304.8" x2="477.25" y2="304.8" stroke="#000" stroke-width="2.4"/><line x1="483.7" y1="355" x2="483.7" y2="366.4" stroke="#000" stroke-width="1.05" stroke-dasharray="2.6 2.3"/><line x1="481.7" y1="355" x2="485.7" y2="355" stroke="#000" stroke-width="1.3"/><line x1="483.7" y1="402.4" x2="483.7" y2="390" stroke="#000" stroke-width="1.05" stroke-dasharray="2.6 2.3"/><line x1="481.7" y1="402.4" x2="485.7" y2="402.4" stroke="#000" stroke-width="1.3"/><rect x="480.4" y="366.4" width="6.6" height="23.6" fill="#0000FF" stroke="#000" stroke-width="1.15"/><line x1="480.4" y1="377.6" x2="487" y2="377.6" stroke="#000" stroke-width="2.4"/><line x1="493.45" y1="412.1" x2="493.45" y2="408.9" stroke="#000" stroke-width="1.05" stroke-dasharray="2.6 2.3"/><line x1="491.45" y1="412.1" x2="495.45" y2="412.1" stroke="#000" stroke-width="1.3"/><rect x="490.15" y="405.8" width="6.6" height="3.1" fill="#0000FF" stroke="#000" stroke-width="1.15"/><line x1="490.15" y1="406.4" x2="496.75" y2="406.4" stroke="#000" stroke-width="2.4"/><line x1="503.2" y1="412.2" x2="503.2" y2="415.5" stroke="#000" stroke-width="1.05" stroke-dasharray="2.6 2.3"/><line x1="501.2" y1="412.2" x2="505.2" y2="412.2" stroke="#000" stroke-width="1.3"/><line x1="503.2" y1="420.5" x2="503.2" y2="419.5" stroke="#000" stroke-width="1.05" stroke-dasharray="2.6 2.3"/><line x1="501.2" y1="420.5" x2="505.2" y2="420.5" stroke="#000" stroke-width="1.3"/><rect x="499.9" y="415.5" width="6.6" height="4" fill="#0000FF" stroke="#000" stroke-width="1.15"/><line x1="499.9" y1="416.2" x2="506.5" y2="416.2" stroke="#000" stroke-width="2.4"/><rect x="509.05" y="422.4" width="7.8" height="2.2" rx="1.2" fill="#000"/><rect x="518.8" y="417" width="7.8" height="3" rx="1.2" fill="#000"/><line x1="532.45" y1="405" x2="532.45" y2="407.5" stroke="#000" stroke-width="1.05" stroke-dasharray="2.6 2.3"/><line x1="530.45" y1="405" x2="534.45" y2="405" stroke="#000" stroke-width="1.3"/><line x1="532.45" y1="414.5" x2="532.45" y2="411.3" stroke="#000" stroke-width="1.05" stroke-dasharray="2.6 2.3"/><line x1="530.45" y1="414.5" x2="534.45" y2="414.5" stroke="#000" stroke-width="1.3"/><rect x="529.15" y="407.5" width="6.6" height="3.8" fill="#0000FF" stroke="#000" stroke-width="1.15"/><line x1="529.15" y1="408.5" x2="535.75" y2="408.5" stroke="#000" stroke-width="2.4"/><path d="M361.1 361.5L367.3 361.5M362.65 358.82L365.75 364.18M365.75 358.82L362.65 364.18" stroke="#000" stroke-width="1.25" stroke-linecap="round"/><path d="M361.1 369.4L367.3 369.4M362.65 366.72L365.75 372.08M365.75 366.72L362.65 372.08" stroke="#000" stroke-width="1.25" stroke-linecap="round"/><path d="M370.3 349.7L376.5 349.7M371.85 347.02L374.95 352.38M374.95 347.02L371.85 352.38" stroke="#000" stroke-width="1.25" stroke-linecap="round"/><path d="M370.3 357.6L376.5 357.6M371.85 354.92L374.95 360.28M374.95 354.92L371.85 360.28" stroke="#000" stroke-width="1.25" stroke-linecap="round"/><path d="M451 346.4L457.2 346.4M452.55 343.72L455.65 349.08M455.65 343.72L452.55 349.08" stroke="#000" stroke-width="1.25" stroke-linecap="round"/><path d="M451 355.1L457.2 355.1M452.55 352.42L455.65 357.78M455.65 352.42L452.55 357.78" stroke="#000" stroke-width="1.25" stroke-linecap="round"/><path d="M461.2 336.4L467.4 336.4M462.75 333.72L465.85 339.08M465.85 333.72L462.75 339.08" stroke="#000" stroke-width="1.25" stroke-linecap="round"/><path d="M461.2 345.7L467.4 345.7M462.75 343.02L465.85 348.38M465.85 343.02L462.75 348.38" stroke="#000" stroke-width="1.25" stroke-linecap="round"/><path d="M470.9 284L477.1 284M472.45 281.32L475.55 286.68M475.55 281.32L472.45 286.68" stroke="#000" stroke-width="1.25" stroke-linecap="round"/><path d="M470.9 292.3L477.1 292.3M472.45 289.62L475.55 294.98M475.55 289.62L472.45 294.98" stroke="#000" stroke-width="1.25" stroke-linecap="round"/><path d="M481.9 337.5L488.1 337.5M483.45 334.82L486.55 340.18M486.55 334.82L483.45 340.18" stroke="#000" stroke-width="1.25" stroke-linecap="round"/><path d="M481.9 346L488.1 346M483.45 343.32L486.55 348.68M486.55 343.32L483.45 348.68" stroke="#000" stroke-width="1.25" stroke-linecap="round"/><line x1="440" y1="252.5" x2="440" y2="458" stroke="#9a9a9a" stroke-width="1.5"/><rect x="336.4" y="252.5" width="204.6" height="183.1" fill="none" stroke="#404040" stroke-width="1.4"/><line x1="336.4" y1="405.1" x2="542.3" y2="405.1" stroke="#FF00FF" stroke-width="3.2" stroke-dasharray="8.8 3.2"/><line x1="329" y1="428.8" x2="336.4" y2="428.8" stroke="#383838" stroke-width="1.3"/><text transform="translate(318.7 428.8) rotate(-90)" text-anchor="middle" class="yt">0</text><line x1="329" y1="394.84" x2="336.4" y2="394.84" stroke="#383838" stroke-width="1.3"/><text transform="translate(318.7 394.84) rotate(-90)" text-anchor="middle" class="yt">2</text><line x1="329" y1="360.88" x2="336.4" y2="360.88" stroke="#383838" stroke-width="1.3"/><text transform="translate(318.7 360.88) rotate(-90)" text-anchor="middle" class="yt">4</text><line x1="329" y1="326.92" x2="336.4" y2="326.92" stroke="#383838" stroke-width="1.3"/><text transform="translate(318.7 326.92) rotate(-90)" text-anchor="middle" class="yt">6</text><line x1="329" y1="292.96" x2="336.4" y2="292.96" stroke="#383838" stroke-width="1.3"/><text transform="translate(318.7 292.96) rotate(-90)" text-anchor="middle" class="yt">8</text><line x1="329" y1="259" x2="336.4" y2="259" stroke="#383838" stroke-width="1.3"/><text transform="translate(318.7 259) rotate(-90)" text-anchor="middle" class="yt">10</text><line x1="345.4" y1="435.6" x2="345.4" y2="439.6" stroke="#383838" stroke-width="1.4"/><text transform="translate(347.7 443.5) rotate(-90) scale(0.9 1)" text-anchor="end" class="xt">0</text><line x1="355.09" y1="435.6" x2="355.09" y2="439.6" stroke="#383838" stroke-width="1.4"/><text transform="translate(357.2 443.5) rotate(-90) scale(0.9 1)" text-anchor="end" class="xt">0.25</text><line x1="364.78" y1="435.6" x2="364.78" y2="439.6" stroke="#383838" stroke-width="1.4"/><text transform="translate(366.7 443.5) rotate(-90) scale(0.9 1)" text-anchor="end" class="xt">0.5</text><line x1="374.47" y1="435.6" x2="374.47" y2="439.6" stroke="#383838" stroke-width="1.4"/><text transform="translate(376.2 443.5) rotate(-90) scale(0.9 1)" text-anchor="end" class="xt">1</text><line x1="384.16" y1="435.6" x2="384.16" y2="439.6" stroke="#383838" stroke-width="1.4"/><text transform="translate(385.7 443.5) rotate(-90) scale(0.9 1)" text-anchor="end" class="xt">2</text><line x1="393.85" y1="435.6" x2="393.85" y2="439.6" stroke="#383838" stroke-width="1.4"/><text transform="translate(395.2 443.5) rotate(-90) scale(0.9 1)" text-anchor="end" class="xt">4</text><line x1="403.54" y1="435.6" x2="403.54" y2="439.6" stroke="#383838" stroke-width="1.4"/><text transform="translate(404.7 443.5) rotate(-90) scale(0.9 1)" text-anchor="end" class="xt">6</text><line x1="413.23" y1="435.6" x2="413.23" y2="439.6" stroke="#383838" stroke-width="1.4"/><text transform="translate(414.2 443.5) rotate(-90) scale(0.9 1)" text-anchor="end" class="xt">8</text><line x1="422.92" y1="435.6" x2="422.92" y2="439.6" stroke="#383838" stroke-width="1.4"/><text transform="translate(423.7 443.5) rotate(-90) scale(0.9 1)" text-anchor="end" class="xt">10</text><line x1="432.61" y1="435.6" x2="432.61" y2="439.6" stroke="#383838" stroke-width="1.4"/><text transform="translate(433.2 443.5) rotate(-90) scale(0.9 1)" text-anchor="end" class="xt">R2h</text><line x1="444" y1="435.6" x2="444" y2="439.6" stroke="#383838" stroke-width="1.4"/><text transform="translate(446.15 443.5) rotate(-90) scale(0.9 1)" text-anchor="end" class="xt">0</text><line x1="453.78" y1="435.6" x2="453.78" y2="439.6" stroke="#383838" stroke-width="1.4"/><text transform="translate(455.91 443.5) rotate(-90) scale(0.9 1)" text-anchor="end" class="xt">0.25</text><line x1="463.56" y1="435.6" x2="463.56" y2="439.6" stroke="#383838" stroke-width="1.4"/><text transform="translate(465.67 443.5) rotate(-90) scale(0.9 1)" text-anchor="end" class="xt">0.5</text><line x1="473.34" y1="435.6" x2="473.34" y2="439.6" stroke="#383838" stroke-width="1.4"/><text transform="translate(475.43 443.5) rotate(-90) scale(0.9 1)" text-anchor="end" class="xt">1</text><line x1="483.12" y1="435.6" x2="483.12" y2="439.6" stroke="#383838" stroke-width="1.4"/><text transform="translate(485.19 443.5) rotate(-90) scale(0.9 1)" text-anchor="end" class="xt">2</text><line x1="492.9" y1="435.6" x2="492.9" y2="439.6" stroke="#383838" stroke-width="1.4"/><text transform="translate(494.95 443.5) rotate(-90) scale(0.9 1)" text-anchor="end" class="xt">4</text><line x1="502.68" y1="435.6" x2="502.68" y2="439.6" stroke="#383838" stroke-width="1.4"/><text transform="translate(504.71 443.5) rotate(-90) scale(0.9 1)" text-anchor="end" class="xt">6</text><line x1="512.46" y1="435.6" x2="512.46" y2="439.6" stroke="#383838" stroke-width="1.4"/><text transform="translate(514.47 443.5) rotate(-90) scale(0.9 1)" text-anchor="end" class="xt">8</text><line x1="522.24" y1="435.6" x2="522.24" y2="439.6" stroke="#383838" stroke-width="1.4"/><text transform="translate(524.23 443.5) rotate(-90) scale(0.9 1)" text-anchor="end" class="xt">10</text><line x1="532.02" y1="435.6" x2="532.02" y2="439.6" stroke="#383838" stroke-width="1.4"/><text transform="translate(533.99 443.5) rotate(-90) scale(0.9 1)" text-anchor="end" class="xt">R2h</text><text transform="translate(299.7 340.9) rotate(-90)" text-anchor="middle" class="yl">Relative expression level</text>
<line x1="83.3" y1="626.1" x2="83.3" y2="627.7" stroke="#000" stroke-width="1.05" stroke-dasharray="2.6 2.3"/><line x1="81.3" y1="626.1" x2="85.3" y2="626.1" stroke="#000" stroke-width="1.3"/><line x1="83.3" y1="632.9" x2="83.3" y2="631.1" stroke="#000" stroke-width="1.05" stroke-dasharray="2.6 2.3"/><line x1="81.3" y1="632.9" x2="85.3" y2="632.9" stroke="#000" stroke-width="1.3"/><rect x="80" y="627.7" width="6.6" height="3.4" fill="#4873D0" stroke="#000" stroke-width="1.15"/><line x1="80" y1="629" x2="86.6" y2="629" stroke="#000" stroke-width="2.4"/><line x1="92.63" y1="582.8" x2="92.63" y2="585.2" stroke="#000" stroke-width="1.05" stroke-dasharray="2.6 2.3"/><line x1="90.63" y1="582.8" x2="94.63" y2="582.8" stroke="#000" stroke-width="1.3"/><line x1="92.63" y1="592" x2="92.63" y2="589.6" stroke="#000" stroke-width="1.05" stroke-dasharray="2.6 2.3"/><line x1="90.63" y1="592" x2="94.63" y2="592" stroke="#000" stroke-width="1.3"/><rect x="89.33" y="585.2" width="6.6" height="4.4" fill="#4873D0" stroke="#000" stroke-width="1.15"/><line x1="89.33" y1="587" x2="95.93" y2="587" stroke="#000" stroke-width="2.4"/><line x1="101.96" y1="508" x2="101.96" y2="519.7" stroke="#000" stroke-width="1.05" stroke-dasharray="2.6 2.3"/><line x1="99.96" y1="508" x2="103.96" y2="508" stroke="#000" stroke-width="1.3"/><line x1="101.96" y1="551.8" x2="101.96" y2="541.6" stroke="#000" stroke-width="1.05" stroke-dasharray="2.6 2.3"/><line x1="99.96" y1="551.8" x2="103.96" y2="551.8" stroke="#000" stroke-width="1.3"/><rect x="98.66" y="519.7" width="6.6" height="21.9" fill="#4873D0" stroke="#000" stroke-width="1.15"/><line x1="98.66" y1="531.4" x2="105.26" y2="531.4" stroke="#000" stroke-width="2.4"/><line x1="111.29" y1="574.7" x2="111.29" y2="577.8" stroke="#000" stroke-width="1.05" stroke-dasharray="2.6 2.3"/><line x1="109.29" y1="574.7" x2="113.29" y2="574.7" stroke="#000" stroke-width="1.3"/><line x1="111.29" y1="586.1" x2="111.29" y2="583.5" stroke="#000" stroke-width="1.05" stroke-dasharray="2.6 2.3"/><line x1="109.29" y1="586.1" x2="113.29" y2="586.1" stroke="#000" stroke-width="1.3"/><rect x="107.99" y="577.8" width="6.6" height="5.7" fill="#4873D0" stroke="#000" stroke-width="1.15"/><line x1="107.99" y1="581.2" x2="114.59" y2="581.2" stroke="#000" stroke-width="2.4"/><line x1="120.62" y1="600.1" x2="120.62" y2="601.8" stroke="#000" stroke-width="1.05" stroke-dasharray="2.6 2.3"/><line x1="118.62" y1="600.1" x2="122.62" y2="600.1" stroke="#000" stroke-width="1.3"/><line x1="120.62" y1="611" x2="120.62" y2="607.7" stroke="#000" stroke-width="1.05" stroke-dasharray="2.6 2.3"/><line x1="118.62" y1="611" x2="122.62" y2="611" stroke="#000" stroke-width="1.3"/><rect x="117.32" y="601.8" width="6.6" height="5.9" fill="#4873D0" stroke="#000" stroke-width="1.15"/><line x1="117.32" y1="605.1" x2="123.92" y2="605.1" stroke="#000" stroke-width="2.4"/><line x1="129.95" y1="608.5" x2="129.95" y2="614.5" stroke="#000" stroke-width="1.05" stroke-dasharray="2.6 2.3"/><line x1="127.95" y1="608.5" x2="131.95" y2="608.5" stroke="#000" stroke-width="1.3"/><line x1="129.95" y1="629.5" x2="129.95" y2="623.5" stroke="#000" stroke-width="1.05" stroke-dasharray="2.6 2.3"/><line x1="127.95" y1="629.5" x2="131.95" y2="629.5" stroke="#000" stroke-width="1.3"/><rect x="126.65" y="614.5" width="6.6" height="9" fill="#4873D0" stroke="#000" stroke-width="1.15"/><line x1="126.65" y1="622" x2="133.25" y2="622" stroke="#000" stroke-width="2.4"/><line x1="139.28" y1="604.5" x2="139.28" y2="610.5" stroke="#000" stroke-width="1.05" stroke-dasharray="2.6 2.3"/><line x1="137.28" y1="604.5" x2="141.28" y2="604.5" stroke="#000" stroke-width="1.3"/><line x1="139.28" y1="622.5" x2="139.28" y2="621" stroke="#000" stroke-width="1.05" stroke-dasharray="2.6 2.3"/><line x1="137.28" y1="622.5" x2="141.28" y2="622.5" stroke="#000" stroke-width="1.3"/><rect x="135.98" y="610.5" width="6.6" height="10.5" fill="#4873D0" stroke="#000" stroke-width="1.15"/><line x1="135.98" y1="616" x2="142.58" y2="616" stroke="#000" stroke-width="2.4"/><line x1="148.61" y1="615" x2="148.61" y2="618" stroke="#000" stroke-width="1.05" stroke-dasharray="2.6 2.3"/><line x1="146.61" y1="615" x2="150.61" y2="615" stroke="#000" stroke-width="1.3"/><line x1="148.61" y1="624.5" x2="148.61" y2="623.5" stroke="#000" stroke-width="1.05" stroke-dasharray="2.6 2.3"/><line x1="146.61" y1="624.5" x2="150.61" y2="624.5" stroke="#000" stroke-width="1.3"/><rect x="145.31" y="618" width="6.6" height="5.5" fill="#4873D0" stroke="#000" stroke-width="1.15"/><line x1="145.31" y1="619.5" x2="151.91" y2="619.5" stroke="#000" stroke-width="2.4"/><rect x="154.04" y="637.75" width="7.8" height="3.5" rx="1.2" fill="#000"/><rect x="163.37" y="640.4" width="7.8" height="2.2" rx="1.2" fill="#000"/><rect x="177.5" y="639" width="7.8" height="3" rx="1.2" fill="#000"/><line x1="190.63" y1="641.5" x2="190.63" y2="640.2" stroke="#000" stroke-width="1.05" stroke-dasharray="2.6 2.3"/><line x1="188.63" y1="641.5" x2="192.63" y2="641.5" stroke="#000" stroke-width="1.3"/><rect x="187.33" y="637.8" width="6.6" height="2.4" fill="#ED7D31" stroke="#000" stroke-width="1.15"/><line x1="187.33" y1="639" x2="193.93" y2="639" stroke="#000" stroke-width="2.4"/><rect x="195.96" y="635.4" width="7.8" height="2.2" rx="1.2" fill="#000"/><rect x="205.19" y="635.4" width="7.8" height="2.2" rx="1.2" fill="#000"/><line x1="218.32" y1="630.5" x2="218.32" y2="635" stroke="#000" stroke-width="1.05" stroke-dasharray="2.6 2.3"/><line x1="216.32" y1="630.5" x2="220.32" y2="630.5" stroke="#000" stroke-width="1.3"/><line x1="218.32" y1="639.8" x2="218.32" y2="639" stroke="#000" stroke-width="1.05" stroke-dasharray="2.6 2.3"/><line x1="216.32" y1="639.8" x2="220.32" y2="639.8" stroke="#000" stroke-width="1.3"/><rect x="215.02" y="635" width="6.6" height="4" fill="#ED7D31" stroke="#000" stroke-width="1.15"/><line x1="215.02" y1="636" x2="221.62" y2="636" stroke="#000" stroke-width="2.4"/><rect x="223.65" y="635.5" width="7.8" height="3" rx="1.2" fill="#000"/><line x1="236.78" y1="638.5" x2="236.78" y2="641" stroke="#000" stroke-width="1.05" stroke-dasharray="2.6 2.3"/><line x1="234.78" y1="638.5" x2="238.78" y2="638.5" stroke="#000" stroke-width="1.3"/><line x1="236.78" y1="644.2" x2="236.78" y2="643.5" stroke="#000" stroke-width="1.05" stroke-dasharray="2.6 2.3"/><line x1="234.78" y1="644.2" x2="238.78" y2="644.2" stroke="#000" stroke-width="1.3"/><rect x="233.48" y="641" width="6.6" height="2.5" fill="#000" stroke="#000" stroke-width="1.15"/><line x1="233.48" y1="642" x2="240.08" y2="642" stroke="#000" stroke-width="2.4"/><line x1="246.01" y1="643" x2="246.01" y2="642" stroke="#000" stroke-width="1.05" stroke-dasharray="2.6 2.3"/><line x1="244.01" y1="643" x2="248.01" y2="643" stroke="#000" stroke-width="1.3"/><rect x="242.71" y="638.5" width="6.6" height="3.5" fill="#ED7D31" stroke="#000" stroke-width="1.15"/><line x1="242.71" y1="640" x2="249.31" y2="640" stroke="#000" stroke-width="2.4"/><rect x="251.34" y="638.5" width="7.8" height="3" rx="1.2" fill="#000"/><rect x="260.57" y="639.5" width="7.8" height="3" rx="1.2" fill="#000"/><path d="M89.7 563.1L95.9 563.1M91.25 560.42L94.35 565.78M94.35 560.42L91.25 565.78" stroke="#000" stroke-width="1.25" stroke-linecap="round"/><path d="M89.7 571.7L95.9 571.7M91.25 569.02L94.35 574.38M94.35 569.02L91.25 574.38" stroke="#000" stroke-width="1.25" stroke-linecap="round"/><path d="M99.5 491.6L105.7 491.6M101.05 488.92L104.15 494.28M104.15 488.92L101.05 494.28" stroke="#000" stroke-width="1.25" stroke-linecap="round"/><path d="M99.5 500.3L105.7 500.3M101.05 497.62L104.15 502.98M104.15 497.62L101.05 502.98" stroke="#000" stroke-width="1.25" stroke-linecap="round"/><path d="M108.6 559.2L114.8 559.2M110.15 556.52L113.25 561.88M113.25 556.52L110.15 561.88" stroke="#000" stroke-width="1.25" stroke-linecap="round"/><path d="M108.6 567.7L114.8 567.7M110.15 565.02L113.25 570.38M113.25 565.02L110.15 570.38" stroke="#000" stroke-width="1.25" stroke-linecap="round"/><path d="M117.8 583.9L124 583.9M119.35 581.22L122.45 586.58M122.45 581.22L119.35 586.58" stroke="#000" stroke-width="1.25" stroke-linecap="round"/><path d="M117.8 592.3L124 592.3M119.35 589.62L122.45 594.98M122.45 589.62L119.35 594.98" stroke="#000" stroke-width="1.25" stroke-linecap="round"/><line x1="174.9" y1="470.5" x2="174.9" y2="675.5" stroke="#9a9a9a" stroke-width="1.5"/><rect x="74.5" y="470.5" width="197.7" height="183.7" fill="none" stroke="#404040" stroke-width="1.4"/><line x1="74.5" y1="625" x2="273.5" y2="625" stroke="#FF00FF" stroke-width="3.2" stroke-dasharray="8.8 3.2"/><line x1="67.1" y1="646.8" x2="74.5" y2="646.8" stroke="#383838" stroke-width="1.3"/><text transform="translate(57.4 646.8) rotate(-90)" text-anchor="middle" class="yt">0</text><line x1="67.1" y1="612.88" x2="74.5" y2="612.88" stroke="#383838" stroke-width="1.3"/><text transform="translate(57.4 612.88) rotate(-90)" text-anchor="middle" class="yt">2</text><line x1="67.1" y1="578.96" x2="74.5" y2="578.96" stroke="#383838" stroke-width="1.3"/><text transform="translate(57.4 578.96) rotate(-90)" text-anchor="middle" class="yt">4</text><line x1="67.1" y1="545.04" x2="74.5" y2="545.04" stroke="#383838" stroke-width="1.3"/><text transform="translate(57.4 545.04) rotate(-90)" text-anchor="middle" class="yt">6</text><line x1="67.1" y1="511.12" x2="74.5" y2="511.12" stroke="#383838" stroke-width="1.3"/><text transform="translate(57.4 511.12) rotate(-90)" text-anchor="middle" class="yt">8</text><line x1="67.1" y1="477.2" x2="74.5" y2="477.2" stroke="#383838" stroke-width="1.3"/><text transform="translate(57.4 477.2) rotate(-90)" text-anchor="middle" class="yt">10</text><line x1="83.4" y1="654.2" x2="83.4" y2="658.6" stroke="#383838" stroke-width="1.4"/><text transform="translate(85.45 660.5) rotate(-90) scale(0.9 1)" text-anchor="end" class="xt">0</text><line x1="92.8" y1="654.2" x2="92.8" y2="658.6" stroke="#383838" stroke-width="1.4"/><text transform="translate(94.87 660.5) rotate(-90) scale(0.9 1)" text-anchor="end" class="xt">0.25</text><line x1="102.2" y1="654.2" x2="102.2" y2="658.6" stroke="#383838" stroke-width="1.4"/><text transform="translate(104.29 660.5) rotate(-90) scale(0.9 1)" text-anchor="end" class="xt">0.5</text><line x1="111.6" y1="654.2" x2="111.6" y2="658.6" stroke="#383838" stroke-width="1.4"/><text transform="translate(113.71 660.5) rotate(-90) scale(0.9 1)" text-anchor="end" class="xt">1</text><line x1="121" y1="654.2" x2="121" y2="658.6" stroke="#383838" stroke-width="1.4"/><text transform="translate(123.13 660.5) rotate(-90) scale(0.9 1)" text-anchor="end" class="xt">2</text><line x1="130.4" y1="654.2" x2="130.4" y2="658.6" stroke="#383838" stroke-width="1.4"/><text transform="translate(132.55 660.5) rotate(-90) scale(0.9 1)" text-anchor="end" class="xt">4</text><line x1="139.8" y1="654.2" x2="139.8" y2="658.6" stroke="#383838" stroke-width="1.4"/><text transform="translate(141.97 660.5) rotate(-90) scale(0.9 1)" text-anchor="end" class="xt">6</text><line x1="149.2" y1="654.2" x2="149.2" y2="658.6" stroke="#383838" stroke-width="1.4"/><text transform="translate(151.39 660.5) rotate(-90) scale(0.9 1)" text-anchor="end" class="xt">8</text><line x1="158.6" y1="654.2" x2="158.6" y2="658.6" stroke="#383838" stroke-width="1.4"/><text transform="translate(160.81 660.5) rotate(-90) scale(0.9 1)" text-anchor="end" class="xt">10</text><line x1="168" y1="654.2" x2="168" y2="658.6" stroke="#383838" stroke-width="1.4"/><text transform="translate(170.23 660.5) rotate(-90) scale(0.9 1)" text-anchor="end" class="xt">R2h</text><line x1="181" y1="654.2" x2="181" y2="658.6" stroke="#383838" stroke-width="1.4"/><text transform="translate(183.2 660.5) rotate(-90) scale(0.9 1)" text-anchor="end" class="xt">0</text><line x1="190.27" y1="654.2" x2="190.27" y2="658.6" stroke="#383838" stroke-width="1.4"/><text transform="translate(192.62 660.5) rotate(-90) scale(0.9 1)" text-anchor="end" class="xt">0.25</text><line x1="199.54" y1="654.2" x2="199.54" y2="658.6" stroke="#383838" stroke-width="1.4"/><text transform="translate(202.04 660.5) rotate(-90) scale(0.9 1)" text-anchor="end" class="xt">0.5</text><line x1="208.81" y1="654.2" x2="208.81" y2="658.6" stroke="#383838" stroke-width="1.4"/><text transform="translate(211.46 660.5) rotate(-90) scale(0.9 1)" text-anchor="end" class="xt">1</text><line x1="218.08" y1="654.2" x2="218.08" y2="658.6" stroke="#383838" stroke-width="1.4"/><text transform="translate(220.88 660.5) rotate(-90) scale(0.9 1)" text-anchor="end" class="xt">2</text><line x1="227.35" y1="654.2" x2="227.35" y2="658.6" stroke="#383838" stroke-width="1.4"/><text transform="translate(230.3 660.5) rotate(-90) scale(0.9 1)" text-anchor="end" class="xt">4</text><line x1="236.62" y1="654.2" x2="236.62" y2="658.6" stroke="#383838" stroke-width="1.4"/><text transform="translate(239.72 660.5) rotate(-90) scale(0.9 1)" text-anchor="end" class="xt">6</text><line x1="245.89" y1="654.2" x2="245.89" y2="658.6" stroke="#383838" stroke-width="1.4"/><text transform="translate(249.14 660.5) rotate(-90) scale(0.9 1)" text-anchor="end" class="xt">8</text><line x1="255.16" y1="654.2" x2="255.16" y2="658.6" stroke="#383838" stroke-width="1.4"/><text transform="translate(258.56 660.5) rotate(-90) scale(0.9 1)" text-anchor="end" class="xt">10</text><line x1="264.43" y1="654.2" x2="264.43" y2="658.6" stroke="#383838" stroke-width="1.4"/><text transform="translate(267.98 660.5) rotate(-90) scale(0.9 1)" text-anchor="end" class="xt">R2h</text><text transform="translate(37.8 561.35) rotate(-90)" text-anchor="middle" class="yl">Relative expression level</text>
<line x1="346.4" y1="626.7" x2="346.4" y2="628.2" stroke="#000" stroke-width="1.05" stroke-dasharray="2.6 2.3"/><line x1="344.4" y1="626.7" x2="348.4" y2="626.7" stroke="#000" stroke-width="1.3"/><line x1="346.4" y1="634" x2="346.4" y2="632.6" stroke="#000" stroke-width="1.05" stroke-dasharray="2.6 2.3"/><line x1="344.4" y1="634" x2="348.4" y2="634" stroke="#000" stroke-width="1.3"/><rect x="343.1" y="628.2" width="6.6" height="4.4" fill="#8AD5F8" stroke="#000" stroke-width="1.15"/><line x1="343.1" y1="630" x2="349.7" y2="630" stroke="#000" stroke-width="2.4"/><line x1="355.91" y1="618.7" x2="355.91" y2="621.9" stroke="#000" stroke-width="1.05" stroke-dasharray="2.6 2.3"/><line x1="353.91" y1="618.7" x2="357.91" y2="618.7" stroke="#000" stroke-width="1.3"/><line x1="355.91" y1="630.1" x2="355.91" y2="627.5" stroke="#000" stroke-width="1.05" stroke-dasharray="2.6 2.3"/><line x1="353.91" y1="630.1" x2="357.91" y2="630.1" stroke="#000" stroke-width="1.3"/><rect x="352.61" y="621.9" width="6.6" height="5.6" fill="#8AD5F8" stroke="#000" stroke-width="1.15"/><line x1="352.61" y1="624.5" x2="359.21" y2="624.5" stroke="#000" stroke-width="2.4"/><line x1="365.42" y1="570.3" x2="365.42" y2="573.5" stroke="#000" stroke-width="1.05" stroke-dasharray="2.6 2.3"/><line x1="363.42" y1="570.3" x2="367.42" y2="570.3" stroke="#000" stroke-width="1.3"/><line x1="365.42" y1="590.3" x2="365.42" y2="583.4" stroke="#000" stroke-width="1.05" stroke-dasharray="2.6 2.3"/><line x1="363.42" y1="590.3" x2="367.42" y2="590.3" stroke="#000" stroke-width="1.3"/><rect x="362.12" y="573.5" width="6.6" height="9.9" fill="#8AD5F8" stroke="#000" stroke-width="1.15"/><line x1="362.12" y1="575" x2="368.72" y2="575" stroke="#000" stroke-width="2.4"/><line x1="374.93" y1="609.7" x2="374.93" y2="602.7" stroke="#000" stroke-width="1.05" stroke-dasharray="2.6 2.3"/><line x1="372.93" y1="609.7" x2="376.93" y2="609.7" stroke="#000" stroke-width="1.3"/><rect x="371.63" y="593.2" width="6.6" height="9.5" fill="#8AD5F8" stroke="#000" stroke-width="1.15"/><line x1="371.63" y1="594.7" x2="378.23" y2="594.7" stroke="#000" stroke-width="2.4"/><line x1="384.44" y1="613.9" x2="384.44" y2="615.6" stroke="#000" stroke-width="1.05" stroke-dasharray="2.6 2.3"/><line x1="382.44" y1="613.9" x2="386.44" y2="613.9" stroke="#000" stroke-width="1.3"/><rect x="381.14" y="615.6" width="6.6" height="4.2" fill="#8AD5F8" stroke="#000" stroke-width="1.15"/><line x1="381.14" y1="618.4" x2="387.74" y2="618.4" stroke="#000" stroke-width="2.4"/><line x1="393.95" y1="617.6" x2="393.95" y2="620" stroke="#000" stroke-width="1.05" stroke-dasharray="2.6 2.3"/><line x1="391.95" y1="617.6" x2="395.95" y2="617.6" stroke="#000" stroke-width="1.3"/><rect x="390.65" y="620" width="6.6" height="3.2" fill="#8AD5F8" stroke="#000" stroke-width="1.15"/><line x1="390.65" y1="622.6" x2="397.25" y2="622.6" stroke="#000" stroke-width="2.4"/><rect x="399.56" y="638.9" width="7.8" height="2.2" rx="1.2" fill="#000"/><rect x="409.07" y="640.4" width="7.8" height="2.2" rx="1.2" fill="#000"/><rect x="418.58" y="641.4" width="7.8" height="2.2" rx="1.2" fill="#000"/><rect x="428.09" y="640" width="7.8" height="3" rx="1.2" fill="#000"/><rect x="443.1" y="611.2" width="7.8" height="3" rx="1.2" fill="#000"/><line x1="456.51" y1="583.8" x2="456.51" y2="592.5" stroke="#000" stroke-width="1.05" stroke-dasharray="2.6 2.3"/><line x1="454.51" y1="583.8" x2="458.51" y2="583.8" stroke="#000" stroke-width="1.3"/><line x1="456.51" y1="604.6" x2="456.51" y2="603.8" stroke="#000" stroke-width="1.05" stroke-dasharray="2.6 2.3"/><line x1="454.51" y1="604.6" x2="458.51" y2="604.6" stroke="#000" stroke-width="1.3"/><rect x="453.21" y="592.5" width="6.6" height="11.3" fill="#0000FF" stroke="#000" stroke-width="1.15"/><line x1="453.21" y1="601.8" x2="459.81" y2="601.8" stroke="#000" stroke-width="2.4"/><line x1="466.02" y1="509.4" x2="466.02" y2="511.9" stroke="#000" stroke-width="1.05" stroke-dasharray="2.6 2.3"/><line x1="464.02" y1="509.4" x2="468.02" y2="509.4" stroke="#000" stroke-width="1.3"/><line x1="466.02" y1="517.2" x2="466.02" y2="516.6" stroke="#000" stroke-width="1.05" stroke-dasharray="2.6 2.3"/><line x1="464.02" y1="517.2" x2="468.02" y2="517.2" stroke="#000" stroke-width="1.3"/><rect x="462.72" y="511.9" width="6.6" height="4.7" fill="#0000FF" stroke="#000" stroke-width="1.15"/><line x1="462.72" y1="514" x2="469.32" y2="514" stroke="#000" stroke-width="2.4"/><line x1="475.53" y1="554.5" x2="475.53" y2="557.3" stroke="#000" stroke-width="1.05" stroke-dasharray="2.6 2.3"/><line x1="473.53" y1="554.5" x2="477.53" y2="554.5" stroke="#000" stroke-width="1.3"/><line x1="475.53" y1="563.3" x2="475.53" y2="560.9" stroke="#000" stroke-width="1.05" stroke-dasharray="2.6 2.3"/><line x1="473.53" y1="563.3" x2="477.53" y2="563.3" stroke="#000" stroke-width="1.3"/><rect x="472.23" y="557.3" width="6.6" height="3.6" fill="#0000FF" stroke="#000" stroke-width="1.15"/><line x1="472.23" y1="559" x2="478.83" y2="559" stroke="#000" stroke-width="2.4"/><line x1="485.04" y1="556.4" x2="485.04" y2="558.2" stroke="#000" stroke-width="1.05" stroke-dasharray="2.6 2.3"/><line x1="483.04" y1="556.4" x2="487.04" y2="556.4" stroke="#000" stroke-width="1.3"/><line x1="485.04" y1="565.8" x2="485.04" y2="562.7" stroke="#000" stroke-width="1.05" stroke-dasharray="2.6 2.3"/><line x1="483.04" y1="565.8" x2="487.04" y2="565.8" stroke="#000" stroke-width="1.3"/><rect x="481.74" y="558.2" width="6.6" height="4.5" fill="#0000FF" stroke="#000" stroke-width="1.15"/><line x1="481.74" y1="560" x2="488.34" y2="560" stroke="#000" stroke-width="2.4"/><line x1="494.55" y1="594.2" x2="494.55" y2="596.4" stroke="#000" stroke-width="1.05" stroke-dasharray="2.6 2.3"/><line x1="492.55" y1="594.2" x2="496.55" y2="594.2" stroke="#000" stroke-width="1.3"/><line x1="494.55" y1="602.4" x2="494.55" y2="600.7" stroke="#000" stroke-width="1.05" stroke-dasharray="2.6 2.3"/><line x1="492.55" y1="602.4" x2="496.55" y2="602.4" stroke="#000" stroke-width="1.3"/><rect x="491.25" y="596.4" width="6.6" height="4.3" fill="#0000FF" stroke="#000" stroke-width="1.15"/><line x1="491.25" y1="598.5" x2="497.85" y2="598.5" stroke="#000" stroke-width="2.4"/><line x1="504.06" y1="622.7" x2="504.06" y2="626.2" stroke="#000" stroke-width="1.05" stroke-dasharray="2.6 2.3"/><line x1="502.06" y1="622.7" x2="506.06" y2="622.7" stroke="#000" stroke-width="1.3"/><line x1="504.06" y1="632.2" x2="504.06" y2="631.3" stroke="#000" stroke-width="1.05" stroke-dasharray="2.6 2.3"/><line x1="502.06" y1="632.2" x2="506.06" y2="632.2" stroke="#000" stroke-width="1.3"/><rect x="500.76" y="626.2" width="6.6" height="5.1" fill="#0000FF" stroke="#000" stroke-width="1.15"/><line x1="500.76" y1="629.5" x2="507.36" y2="629.5" stroke="#000" stroke-width="2.4"/><line x1="513.57" y1="634.9" x2="513.57" y2="632.9" stroke="#000" stroke-width="1.05" stroke-dasharray="2.6 2.3"/><line x1="511.57" y1="634.9" x2="515.57" y2="634.9" stroke="#000" stroke-width="1.3"/><rect x="510.27" y="630.8" width="6.6" height="2.1" fill="#000" stroke="#000" stroke-width="1.15"/><line x1="510.27" y1="632" x2="516.87" y2="632" stroke="#000" stroke-width="2.4"/><line x1="523.08" y1="641.2" x2="523.08" y2="639.7" stroke="#000" stroke-width="1.05" stroke-dasharray="2.6 2.3"/><line x1="521.08" y1="641.2" x2="525.08" y2="641.2" stroke="#000" stroke-width="1.3"/><rect x="519.78" y="638" width="6.6" height="1.7" fill="#000" stroke="#000" stroke-width="1.15"/><line x1="519.78" y1="639" x2="526.38" y2="639" stroke="#000" stroke-width="2.4"/><rect x="528.69" y="632.8" width="7.8" height="2.2" rx="1.2" fill="#000"/><path d="M363.3 553.1L369.5 553.1M364.85 550.42L367.95 555.78M367.95 550.42L364.85 555.78" stroke="#000" stroke-width="1.25" stroke-linecap="round"/><path d="M363.3 561.6L369.5 561.6M364.85 558.92L367.95 564.28M367.95 558.92L364.85 564.28" stroke="#000" stroke-width="1.25" stroke-linecap="round"/><path d="M372.8 576.2L379 576.2M374.35 573.52L377.45 578.88M377.45 573.52L374.35 578.88" stroke="#000" stroke-width="1.25" stroke-linecap="round"/><path d="M372.8 584.9L379 584.9M374.35 582.22L377.45 587.58M377.45 582.22L374.35 587.58" stroke="#000" stroke-width="1.25" stroke-linecap="round"/><path d="M453.8 569.5L460 569.5M455.35 566.82L458.45 572.18M458.45 566.82L455.35 572.18" stroke="#000" stroke-width="1.25" stroke-linecap="round"/><path d="M453.8 578.2L460 578.2M455.35 575.52L458.45 580.88M458.45 575.52L455.35 580.88" stroke="#000" stroke-width="1.25" stroke-linecap="round"/><path d="M464 493.4L470.2 493.4M465.55 490.72L468.65 496.08M468.65 490.72L465.55 496.08" stroke="#000" stroke-width="1.25" stroke-linecap="round"/><path d="M464 501.9L470.2 501.9M465.55 499.22L468.65 504.58M468.65 499.22L465.55 504.58" stroke="#000" stroke-width="1.25" stroke-linecap="round"/><path d="M471.3 501.9L477.5 501.9M472.85 499.22L475.95 504.58M475.95 499.22L472.85 504.58" stroke="#000" stroke-width="1.25" stroke-linecap="round"/><path d="M471.3 510.1L477.5 510.1M472.85 507.42L475.95 512.78M475.95 507.42L472.85 512.78" stroke="#000" stroke-width="1.25" stroke-linecap="round"/><path d="M472.9 539.1L479.1 539.1M474.45 536.42L477.55 541.78M477.55 536.42L474.45 541.78" stroke="#000" stroke-width="1.25" stroke-linecap="round"/><path d="M472.9 547.6L479.1 547.6M474.45 544.92L477.55 550.28M477.55 544.92L474.45 550.28" stroke="#000" stroke-width="1.25" stroke-linecap="round"/><path d="M482 539.6L488.2 539.6M483.55 536.92L486.65 542.28M486.65 536.92L483.55 542.28" stroke="#000" stroke-width="1.25" stroke-linecap="round"/><path d="M482 548.7L488.2 548.7M483.55 546.02L486.65 551.38M486.65 546.02L483.55 551.38" stroke="#000" stroke-width="1.25" stroke-linecap="round"/><path d="M491.1 579.1L497.3 579.1M492.65 576.42L495.75 581.78M495.75 576.42L492.65 581.78" stroke="#000" stroke-width="1.25" stroke-linecap="round"/><path d="M491.1 587.6L497.3 587.6M492.65 584.92L495.75 590.28M495.75 584.92L492.65 590.28" stroke="#000" stroke-width="1.25" stroke-linecap="round"/><line x1="440.4" y1="473.2" x2="440.4" y2="677" stroke="#9a9a9a" stroke-width="1.5"/><rect x="337.8" y="473.2" width="202.8" height="181.3" fill="none" stroke="#404040" stroke-width="1.4"/><line x1="337.8" y1="624.6" x2="541.9" y2="624.6" stroke="#FF00FF" stroke-width="3.2" stroke-dasharray="8.8 3.2"/><line x1="330.4" y1="647" x2="337.8" y2="647" stroke="#383838" stroke-width="1.3"/><text transform="translate(319.8 647) rotate(-90)" text-anchor="middle" class="yt">0</text><line x1="330.4" y1="613.48" x2="337.8" y2="613.48" stroke="#383838" stroke-width="1.3"/><text transform="translate(319.8 613.48) rotate(-90)" text-anchor="middle" class="yt">2</text><line x1="330.4" y1="579.96" x2="337.8" y2="579.96" stroke="#383838" stroke-width="1.3"/><text transform="translate(319.8 579.96) rotate(-90)" text-anchor="middle" class="yt">4</text><line x1="330.4" y1="546.44" x2="337.8" y2="546.44" stroke="#383838" stroke-width="1.3"/><text transform="translate(319.8 546.44) rotate(-90)" text-anchor="middle" class="yt">6</text><line x1="330.4" y1="512.92" x2="337.8" y2="512.92" stroke="#383838" stroke-width="1.3"/><text transform="translate(319.8 512.92) rotate(-90)" text-anchor="middle" class="yt">8</text><line x1="330.4" y1="479.4" x2="337.8" y2="479.4" stroke="#383838" stroke-width="1.3"/><text transform="translate(319.8 479.4) rotate(-90)" text-anchor="middle" class="yt">10</text><line x1="346.4" y1="654.5" x2="346.4" y2="658.9" stroke="#383838" stroke-width="1.4"/><text transform="translate(349.2 660.5) rotate(-90) scale(0.9 1)" text-anchor="end" class="xt">0</text><line x1="355.91" y1="654.5" x2="355.91" y2="658.9" stroke="#383838" stroke-width="1.4"/><text transform="translate(358.62 660.5) rotate(-90) scale(0.9 1)" text-anchor="end" class="xt">0.25</text><line x1="365.42" y1="654.5" x2="365.42" y2="658.9" stroke="#383838" stroke-width="1.4"/><text transform="translate(368.04 660.5) rotate(-90) scale(0.9 1)" text-anchor="end" class="xt">0.5</text><line x1="374.93" y1="654.5" x2="374.93" y2="658.9" stroke="#383838" stroke-width="1.4"/><text transform="translate(377.46 660.5) rotate(-90) scale(0.9 1)" text-anchor="end" class="xt">1</text><line x1="384.44" y1="654.5" x2="384.44" y2="658.9" stroke="#383838" stroke-width="1.4"/><text transform="translate(386.88 660.5) rotate(-90) scale(0.9 1)" text-anchor="end" class="xt">2</text><line x1="393.95" y1="654.5" x2="393.95" y2="658.9" stroke="#383838" stroke-width="1.4"/><text transform="translate(396.3 660.5) rotate(-90) scale(0.9 1)" text-anchor="end" class="xt">4</text><line x1="403.46" y1="654.5" x2="403.46" y2="658.9" stroke="#383838" stroke-width="1.4"/><text transform="translate(405.72 660.5) rotate(-90) scale(0.9 1)" text-anchor="end" class="xt">6</text><line x1="412.97" y1="654.5" x2="412.97" y2="658.9" stroke="#383838" stroke-width="1.4"/><text transform="translate(415.14 660.5) rotate(-90) scale(0.9 1)" text-anchor="end" class="xt">8</text><line x1="422.48" y1="654.5" x2="422.48" y2="658.9" stroke="#383838" stroke-width="1.4"/><text transform="translate(424.56 660.5) rotate(-90) scale(0.9 1)" text-anchor="end" class="xt">10</text><line x1="431.99" y1="654.5" x2="431.99" y2="658.9" stroke="#383838" stroke-width="1.4"/><text transform="translate(433.98 660.5) rotate(-90) scale(0.9 1)" text-anchor="end" class="xt">R2h</text><line x1="447" y1="654.5" x2="447" y2="658.9" stroke="#383838" stroke-width="1.4"/><text transform="translate(447.45 660.5) rotate(-90) scale(0.9 1)" text-anchor="end" class="xt">0</text><line x1="456.51" y1="654.5" x2="456.51" y2="658.9" stroke="#383838" stroke-width="1.4"/><text transform="translate(457.23 660.5) rotate(-90) scale(0.9 1)" text-anchor="end" class="xt">0.25</text><line x1="466.02" y1="654.5" x2="466.02" y2="658.9" stroke="#383838" stroke-width="1.4"/><text transform="translate(467.01 660.5) rotate(-90) scale(0.9 1)" text-anchor="end" class="xt">0.5</text><line x1="475.53" y1="654.5" x2="475.53" y2="658.9" stroke="#383838" stroke-width="1.4"/><text transform="translate(476.79 660.5) rotate(-90) scale(0.9 1)" text-anchor="end" class="xt">1</text><line x1="485.04" y1="654.5" x2="485.04" y2="658.9" stroke="#383838" stroke-width="1.4"/><text transform="translate(486.57 660.5) rotate(-90) scale(0.9 1)" text-anchor="end" class="xt">2</text><line x1="494.55" y1="654.5" x2="494.55" y2="658.9" stroke="#383838" stroke-width="1.4"/><text transform="translate(496.35 660.5) rotate(-90) scale(0.9 1)" text-anchor="end" class="xt">4</text><line x1="504.06" y1="654.5" x2="504.06" y2="658.9" stroke="#383838" stroke-width="1.4"/><text transform="translate(506.13 660.5) rotate(-90) scale(0.9 1)" text-anchor="end" class="xt">6</text><line x1="513.57" y1="654.5" x2="513.57" y2="658.9" stroke="#383838" stroke-width="1.4"/><text transform="translate(515.91 660.5) rotate(-90) scale(0.9 1)" text-anchor="end" class="xt">8</text><line x1="523.08" y1="654.5" x2="523.08" y2="658.9" stroke="#383838" stroke-width="1.4"/><text transform="translate(525.69 660.5) rotate(-90) scale(0.9 1)" text-anchor="end" class="xt">10</text><line x1="532.59" y1="654.5" x2="532.59" y2="658.9" stroke="#383838" stroke-width="1.4"/><text transform="translate(535.47 660.5) rotate(-90) scale(0.9 1)" text-anchor="end" class="xt">R2h</text><text transform="translate(299.5 556.6) rotate(-90)" text-anchor="middle" class="yl">Relative expression level</text>
</svg>
</body></html>
